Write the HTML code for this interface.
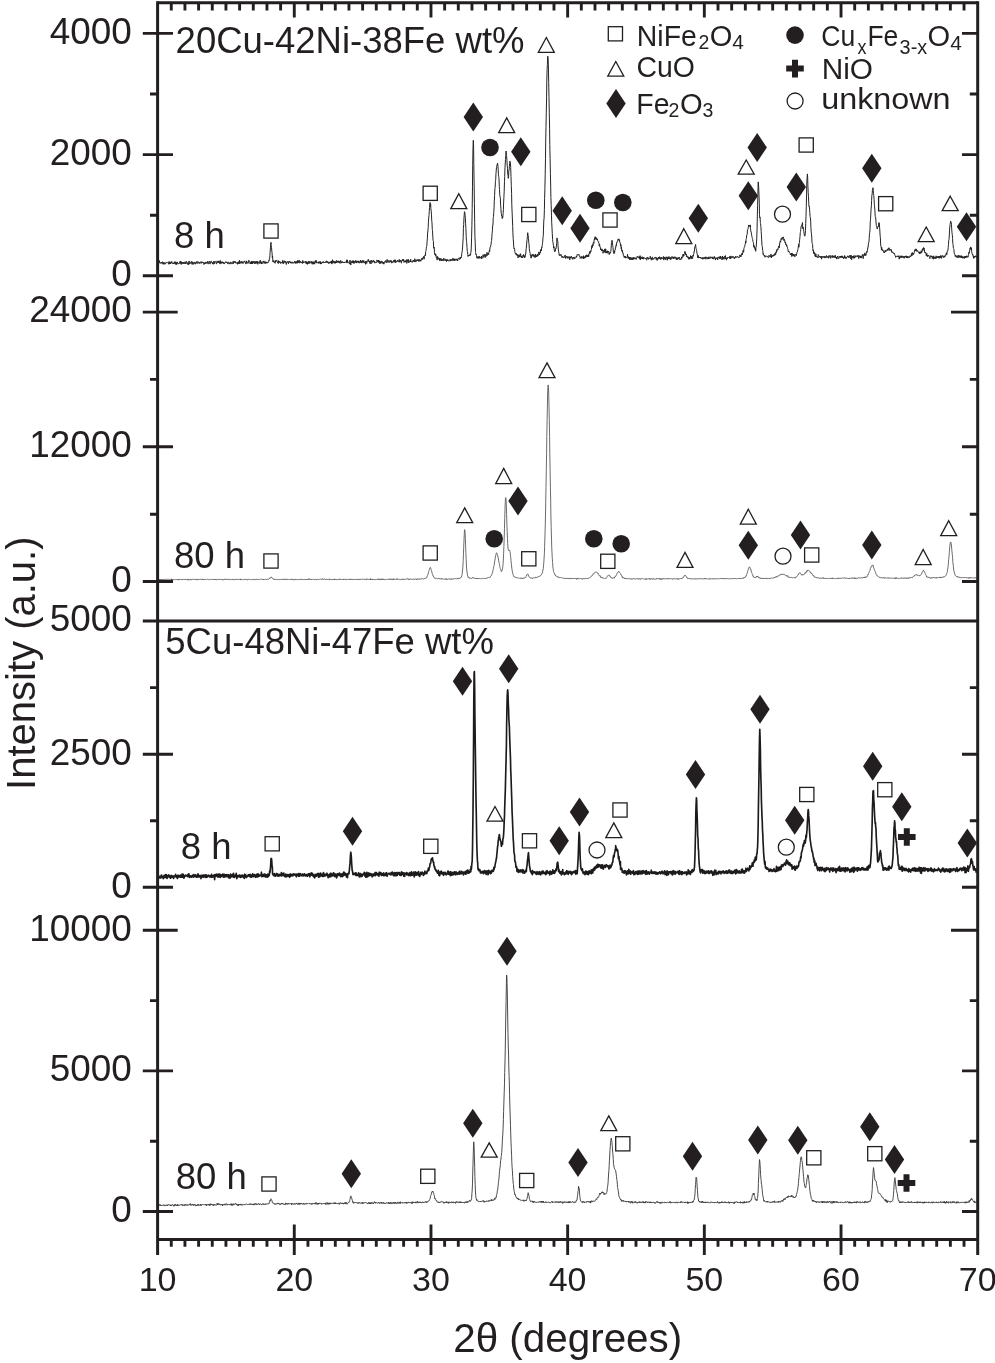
<!DOCTYPE html>
<html lang="en"><head><meta charset="utf-8"><title>XRD patterns</title>
<style>html,body{margin:0;padding:0;background:#fff}svg{display:block}</style>
</head><body>
<svg width="995" height="1363" viewBox="0 0 995 1363">
<rect width="995" height="1363" fill="#fff"/>
<path d="M158.6 264.6l.3-1.9 .2-.2 .3-1.9 .3 2.4 .3-.3 .2-.2 .3 .8 .3 0 .3-1.3 .2 .2 .3 .3 .3 1.1 .3-.1 .2-1.7 .3 .1 .3 1.7 .2 .8 .3-1.5 .3-.6 .3 1.6 .2-1.2 .3 .9 .3 .7 .3-.8 .2-.5 .3 .6 .3-1.2 .3 .4 .2-.4 .3 .4 .3-.3 .2 .3 .3-.2 .3 .4 .3 0 .2 .2 .3 1 .3-2.7 .3 2.6 .2-1.4 .3-.9 .3 1 .3 .2 .2 .9 .3-1.9 .3 1.1 .2-.1 .3-1.6 .3 .4 .3 1.7 .2 0 .3 .4 .3-.5 .3-.1 .2-.3 .3 1 .3-1.9 .3 .7 .2 .4 .3-1.7 .3 2.6 .3-1.9 .2 .6 .3 2 .3-2.7 .2 .3 .3 1.9 .3-2.4 .3 .6 .2 .8 .3 0 .3 .1 .3-.2 .2 .9 .3-.3 .3-.4 .3-1.1 .2-.1 .3-1.1 .3 2.4 .2-2.3 .3 2.5 .3 .8 .3-2.6 .2 .3 .3 .2 .3 1.2 .3-1.5 .2 .6 .3-.3 .3 .2 .3 1.4 .2-2 .3 .9 .3 .2 .2 .5 .3-1.9 .3 2.2 .3-.7 .2 .4 .3-.7 .3-1.5 .3 .8 .2 1.4 .3-.7 .3-.1 .3 1.7 .2 .3 .3-2 .3 1.8 .2-3.6 .3 0 .3 2.6 .3-1 .2 .7 .3 0 .3-.6 .3 .7 .2-.5 .3-1.5 .3 1.6 .3 0 .2 1.5 .3-2.7 .3 1 .2-.4 .3 .3 .3 1.6 .3-1.2 .2-.7 .3 .5 .3 .6 .3-1.6 .2 .7 .3 1.6 .3-.6 .3-.9 .2-.3 .3 .2 .3-1.2 .2 2.2 .3-.5 .3-.2 .3-1.3 .2 .5 .3 1.1 .3-.2 .3-.7 .2 .9 .3 .4 .3-1.4 .3 .1 .2-.3 .3-.3 .3 1.8 .3-.3 .2-.1 .3-1.4 .3 .1 .2 .9 .3-.3 .3 .5 .3-.8 .2 1.2 .3 1.1 .3-.3 .3 .1 .2-1.4 .3 .8 .3-1.2 .3 1.2 .2-1.2 .3-.1 .3-.1 .2 1.2 .3-.4 .3-.1 .3-1.2 .2 1.2 .3-1.5 .3 2.7 .3-1.5 .2 .3 .3-.3 .3-1.3 .3 .2 .2 1.2 .3 1.4 .3-2.4 .2 .4 .3 .6 .3-1.5 .3 0 .2 1.1 .3 .4 .3-.3 .3 1.7 .2-1.5 .3 .4 .3 1.1 .3 .1 .2-2.9 .3 1.1 .3 1.3 .2-2.3 .3 .5 .3-.4 .3 0 .2 .2 .3 1.1 .3 1 .3 .3 .2-1.4 .3-1.8 .3 1.7 .3-.2 .2 .6 .3-.4 .3-1.6 .2 2 .3-2.2 .3 1.2 .3 1 .2 0 .3 1.1 .3-3.6 .3 2.5 .2 .3 .3-.9 .3 .8 .3-1.5 .2 1.6 .3-.2 .3-1.3 .2 .2 .3 .5 .3-.4 .3 1.5 .2-.8 .3 1 .3-.1 .3-1 .2-.2 .3-.7 .3 .1 .3 0 .2 1 .3-1.1 .3 .9 .3 .1 .2-.6 .3 .3 .3 1.4 .2 .2 .3-2.2 .3 .5 .3-.1 .2 .1 .3 1.6 .3-.8 .3 .6 .2 .4 .3-2 .3 .2 .3 .2 .2 .9 .3-1 .3 .7 .2 .5 .3 0 .3-.7 .3-1.1 .2-.7 .3 2.4 .3-.6 .3-1.3 .2 .4 .3 .1 .3-1.1 .3 1.7 .2-.9 .3 .4 .3 1 .2-.8 .3 .6 .3-.1 .3-.4 .2 0 .3 1.7 .3-1.9 .3 1.6 .2-2.3 .3 1.5 .3-.5 .3-.8 .2-1.7 .3 3.8 .3-2.5 .2 .2 .3 1 .3-.1 .3 .2 .2-.5 .3-1.1 .3 2.1 .3-1.6 .2 1 .3 .4 .3 .5 .3-1.3 .2 0 .3 0 .3-1.4 .2 1 .3-.3 .3-.1 .3 1.2 .2-.5 .3 1.8 .3-.1 .3-3.1 .2 1.8 .3-1 .3 1.4 .3-.3 .2 .7 .3-.6 .3 .4 .2-1 .3-2 .3 1.2 .3 .3 .2 .4 .3-.5 .3 2.4 .3-1.7 .2 1.4 .3-1.5 .3 1.8 .3-2.6 .2 1.6 .3-1.7 .3 1.6 .2 1 .3-2.9 .3 .7 .3 1 .2-.4 .3-1.1 .3 2.3 .3-1 .2 1.1 .3-.8 .3-1.4 .3 .6 .2 1.7 .3-2.5 .3 .8 .3 1 .2 .4 .3-.2 .3-2.1 .2 3.2 .3-2 .3 .2 .3-.1 .2-.2 .3-.6 .3 .5 .3 1.5 .2-2.4 .3-1 .3 2.7 .3-.2 .2 .4 .3 .9 .3-2.3 .2 .9 .3 .2 .3 .7 .3-.2 .2-1.7 .3-.5 .3 1 .3-1.2 .2 2.4 .3-1.3 .3 0 .3-.5 .2 2.2 .3-1.2 .3-.6 .2 .9 .3-.7 .3 .6 .3 .7 .2-1.5 .3 .6 .3-.1 .3 .6 .2-.6 .3-.7 .3-1 .3 .4 .2-2.3 .3 0 .3-3.1 .2-2.9 .3-5 .3-3.7 .3-1.8 .2 3.2 .3 1.7 .3 3.9 .3 2 .2 4.5 .3-1.4 .3 5.7 .3-.9 .2 .6 .3-1.2 .3 .4 .2 1.7 .3-.7 .3 .6 .3 .9 .2-.6 .3-2.3 .3 .9 .3-.1 .2 .2 .3-1.1 .3 .1 .3 1.2 .2 .1 .3 1 .3-.7 .2 1.6 .3-3 .3 .4 .3 1.5 .2-.5 .3-.6 .3 1.6 .3 .3 .2 .2 .3-1.6 .3 .4 .3 .2 .2-.1 .3 .8 .3-1.3 .3 .7 .2-2.3 .3 2.7 .3 .8 .2-1.5 .3 .9 .3-2.4 .3 1.2 .2-1.1 .3 1.7 .3 .2 .3-1.7 .2 .4 .3 .3 .3 2.7 .3-2.3 .2 .2 .3 .2 .3 0 .2-.5 .3-1 .3 .6 .3 2.1 .2-1.3 .3-.5 .3-.9 .3 1.1 .2 .1 .3-.6 .3 1.4 .3-1.3 .2 .3 .3 1 .3-.6 .2 .8 .3-1.2 .3-.2 .3 .8 .2-.2 .3 .9 .3-.8 .3-.3 .2 .4 .3 .2 .3-1.6 .3 .8 .2-.1 .3 1.4 .3-1.6 .2 1.4 .3-2.1 .3 1.1 .3 1 .2-1.2 .3 1.3 .3-2.9 .3 1.9 .2 .1 .3-.3 .3-1.2 .3 2 .2-2.8 .3 3 .3-.6 .2 .6 .3-1.1 .3-.8 .3 .6 .2 0 .3 1 .3-.8 .3 .6 .2 .1 .3 .8 .3-3.1 .3 1.5 .2 1 .3 0 .3-1.2 .2 .3 .3 .1 .3 .3 .3-.7 .2-.1 .3-.4 .3 .7 .3 1.6 .2-2.1 .3 1.7 .3 .9 .3-1.6 .2 2 .3-2.3 .3 1.6 .2-1.5 .3-1.1 .3 1.4 .3 1.4 .2-2.2 .3 1 .3-1.4 .3 .1 .2 1.2 .3-.5 .3 .6 .3 .7 .2-2.2 .3 .4 .3 .7 .3 2 .2-2.4 .3-.1 .3 .8 .2 1.5 .3-2.4 .3 .3 .3 .3 .2 .6 .3 1.3 .3-3.1 .3-.4 .2 1.7 .3 .3 .3-2.5 .3 1.5 .2 1.4 .3-1.3 .3 .9 .2-.3 .3 .4 .3-.2 .3-.1 .2 .9 .3-1.7 .3 .6 .3 1 .2-1.6 .3 .2 .3-.4 .3-.1 .2 2.7 .3-1.4 .3 1.2 .2-1 .3-.6 .3-.3 .3 .5 .2-.3 .3 .9 .3-1.7 .3 1 .2 .2 .3-.6 .3 0 .3 .7 .2 0 .3-.6 .3 .1 .2-.5 .3 1 .3-.6 .3-1.3 .2 1.1 .3 .9 .3-.4 .3-1 .2 1.4 .3-.1 .3 0 .3 .9 .2-1.7 .3 .8 .3-.8 .2 1.2 .3 .1 .3-.6 .3 .2 .2-1.4 .3 1.3 .3-1.6 .3 3 .2-.9 .3-2.5 .3-1 .3 3.6 .2-2 .3 1.3 .3-1.7 .2 1.3 .3-.7 .3 1.1 .3-.8 .2 1.6 .3-2 .3 1.8 .3-1.1 .2 .4 .3-1.9 .3-.1 .3 2.5 .2-2.1 .3 .8 .3 .1 .3-.6 .2 1 .3-1.4 .3 .2 .2 1.9 .3-1.6 .3 1.4 .3-.1 .2 .8 .3-1 .3-2 .3 1 .2 .3 .3 1.4 .3-.8 .3-.7 .2 .8 .3-.7 .3 .8 .2-.3 .3 .8 .3-.7 .3 .6 .2-.9 .3 .7 .3-.8 .3 .7 .2-.4 .3-.3 .3-.3 .3 .1 .2 .7 .3-2.5 .3 3.2 .2-3.3 .3 2 .3-.1 .3 1 .2-.5 .3-.3 .3 .2 .3 .7 .2 1.3 .3-1.8 .3-2.2 .3 1.5 .2 .7 .3 2.7 .3-3.7 .2 .3 .3 .9 .3-.2 .3-1.5 .2 2 .3-2 .3 .9 .3 1.5 .2-2.5 .3 .9 .3 1.9 .3-1.8 .2-.7 .3 .4 .3 1.3 .2-2.2 .3 .9 .3-.8 .3 .3 .2 2.2 .3-1.2 .3-.4 .3 .8 .2-1 .3-.5 .3 2.2 .3-.3 .2-1.6 .3 1.5 .3 .6 .2-.8 .3 0 .3-1.6 .3 1 .2-1.6 .3 2.7 .3-1.2 .3 1.4 .2-1.9 .3 1.5 .3-2.3 .3 1.1 .2 .9 .3-.2 .3-.4 .3-1.4 .2 2.7 .3-.6 .3 .4 .2 0 .3-1.4 .3 .7 .3 2.1 .2-3.2 .3 1.1 .3-.9 .3 2.2 .2-1.5 .3-1.1 .3 .4 .3-.7 .2-.8 .3-.5 .3 1.9 .2-.4 .3 1.2 .3-.9 .3 .9 .2 1.5 .3-2.8 .3 0 .3 2 .2 1.3 .3-3 .3-.7 .3 1.3 .2-.2 .3 1.1 .3-1.7 .2 .8 .3-.1 .3-1.2 .3 .1 .2 1.8 .3 .1 .3-1.2 .3 2.1 .2-.5 .3-.5 .3 .2 .3-.3 .2 .4 .3 .1 .3-.8 .2-1.9 .3 1.7 .3-.6 .3-.3 .2 1.6 .3-2.2 .3 2.4 .3-1.3 .2-.6 .3 .3 .3 3 .3-.8 .2-1.6 .3 1.2 .3 .7 .2-2.5 .3 .6 .3 1.1 .3-.5 .2-.7 .3 1.8 .3-1 .3 .3 .2 1.5 .3-1.8 .3 2 .3-2.2 .2-.4 .3 .2 .3 .7 .2-.2 .3-.2 .3-1.8 .3 .4 .2 .7 .3 1 .3 .6 .3-3.6 .2 2.1 .3-.3 .3 .4 .3 .3 .2-1 .3-.5 .3 2.2 .2-.2 .3-1.1 .3 .2 .3-.5 .2-.7 .3 1.9 .3-1.2 .3-.4 .2 .5 .3 2.1 .3-1.2 .3-.2 .2-.1 .3 .7 .3-.1 .3-1.9 .2 1 .3-.4 .3 .8 .2-.3 .3-1.8 .3 3 .3-.9 .2-1.9 .3 2.7 .3-.9 .3 .3 .2-.4 .3 .1 .3-.6 .3-1.1 .2 .9 .3 .8 .3-.2 .2 .6 .3-.7 .3-2 .3 2.8 .2-1.5 .3-.5 .3 1 .3-1 .2 1.6 .3-1.2 .3 2.6 .3-2 .2-.3 .3-.1 .3-1.5 .2 1.2 .3 .1 .3 .4 .3-1.8 .2 2.2 .3 1.1 .3-1.6 .3 .3 .2 .5 .3-1.2 .3 .4 .3 1.3 .2-.8 .3-1.3 .3-.5 .2 3.8 .3-1.8 .3-1.9 .3 1.6 .2 .5 .3-.5 .3-1.9 .3 3.5 .2-1.2 .3-.8 .3 .9 .3-.9 .2-.1 .3 1.1 .3-2.7 .2 2.8 .3-.6 .3 .3 .3 .2 .2 .5 .3-.1 .3-.5 .3-1.2 .2 1 .3-1.2 .3-.4 .3 1.3 .2-.1 .3 .7 .3-3.2 .2 2.6 .3 0 .3-.5 .3 1.3 .2-2.3 .3 1.1 .3-.7 .3 .3 .2-1 .3 .8 .3 .7 .3-.6 .2 .2 .3-1.1 .3 2.2 .3-2.3 .2 .7 .3 .4 .3-.8 .2 .9 .3-.7 .3 1.4 .3-1.2 .2-.3 .3-1.3 .3 1.1 .3 .4 .2-.7 .3-1.5 .3 .2 .3 .1 .2-.1 .3-1.7 .3 2.9 .2-2.4 .3-.4 .3-1.2 .3-.4 .2 .9 .3-4.1 .3-1.1 .3-2.3 .2-1.6 .3-.3 .3-5.1 .3-3 .2-5.1 .3-2.2 .3-3.5 .2-5.1 .3-4.2 .3-2.7 .3-4 .2-3.9 .3-3 .3-2 .3 3.9 .2-2.5 .3 5 .3 2.2 .3 3.1 .2 6.1 .3 2.4 .3 6.5 .2 1.5 .3 5.4 .3 4.4 .3 .7 .2 6 .3 1.1 .3-1.2 .3 5.4 .2 2 .3-1 .3 1 .3 1.4 .2-1.7 .3 2.6 .3 1.2 .2-1.1 .3 1.9 .3 1.3 .3-3.8 .2 .3 .3 1.2 .3 1.5 .3-.2 .2-1.1 .3-.1 .3 .5 .3 2.4 .2-2.5 .3 .4 .3 1.6 .2-1.1 .3-.7 .3 2.4 .3-1 .2-.9 .3 .3 .3 1.3 .3-1.2 .2 .6 .3 .6 .3 .1 .3-2.6 .2 1.3 .3 .1 .3 .5 .2 .6 .3 .4 .3-1.5 .3-.6 .2 1.2 .3-.7 .3 2.2 .3-1.3 .2-.3 .3 .9 .3-1.5 .3 .3 .2 .1 .3 .8 .3 .6 .3-.5 .2 0 .3-.9 .3 .5 .2-.5 .3 1.3 .3-1.7 .3 .5 .2 .3 .3 .5 .3-1.4 .3 .4 .2-.6 .3-.5 .3 2.3 .3-.6 .2-1.9 .3 .5 .3 1.4 .2-1.1 .3-.4 .3 2.1 .3-1.6 .2 0 .3 .9 .3-1.3 .3 .7 .2 .1 .3 .5 .3-1.4 .3 1.6 .2-.7 .3 1.3 .3-1.6 .2-.8 .3 0 .3-.7 .3 1 .2-.2 .3 .8 .3-1 .3-1.1 .2 1.6 .3-1.8 .3 .2 .3 .5 .2-1.2 .3-3.4 .3-1.4 .2-1.2 .3-3.8 .3-4.8 .3-4.7 .2-9.1 .3-3.8 .3-6.8 .3-3.6 .2-2.4 .3 .7 .3 3 .3 3.6 .2 4.7 .3 5 .3 7.5 .2 4 .3 2.3 .3 5.3 .3 3.3 .2 .6 .3 2.6 .3 2.2 .3-1.2 .2 .5 .3 .2 .3-.9 .3 .5 .2-.8 .3 .5 .3-1 .2 .9 .3-2.5 .3-1.7 .3-7 .2-6.8 .3-11.7 .3-16.9 .3-22.4 .2-20.9 .3-17.1 .3-7.9 .3 5.7 .2 17.6 .3 19.3 .3 20.4 .3 19.2 .2 13.9 .3 5.8 .3 9 .2 1.6 .3 2.1 .3-.5 .3 1.4 .2 2.2 .3 .3 .3-1 .3-.7 .2 .3 .3 1.6 .3-1.9 .3-.2 .2 .9 .3 1 .3-1.9 .2 1.4 .3 0 .3-.2 .3-.3 .2 1 .3-.3 .3-2 .3 2.9 .2-1.2 .3-.1 .3-.8 .3 0 .2-2.2 .3 2.2 .3 .7 .2-.1 .3-1.3 .3-1.8 .3 1.1 .2 .7 .3 1.4 .3-3 .3 1.5 .2 .4 .3-.2 .3-.9 .3-2.9 .2 3.1 .3-.7 .3 .1 .2-1.9 .3 .1 .3 1.5 .3-2.2 .2-.6 .3-1.4 .3 1.1 .3-4 .2 0 .3-.4 .3-2 .3-.8 .2-2.5 .3-1.2 .3-4.4 .2-2.7 .3-2.7 .3-5.7 .3-.1 .2-6.7 .3-1.9 .3-4.1 .3-5.2 .2-5.8 .3-5.9 .3-6.7 .3-1.5 .2-5.6 .3-1.9 .3-6.4 .2-2.2 .3-3.9 .3-.8 .3-2 .2 .1 .3-1.4 .3 3.1 .3 3.2 .2 4.9 .3 2.3 .3 2.1 .3 7.8 .2 2.9 .3 5.5 .3 1.9 .3 1.4 .2 7 .3 3.3 .3 4.6 .2 .5 .3 2.6 .3 .5 .3 1.9 .2-2 .3 .8 .3-3.7 .3-4.1 .2-6.5 .3-5.7 .3-6.2 .3-9.6 .2-5 .3-8.9 .3-4.7 .2-3.6 .3-4 .3-4.4 .3 4.2 .2 1 .3 4.1 .3 4.9 .3 3.2 .2 5.5 .3 1.2 .3 3.3 .3-1.7 .2-5.7 .3-1.1 .3-3.6 .2-2.9 .3-2.2 .3 1 .3 1.8 .2 3.6 .3 8.9 .3 9 .3 8 .2 10.7 .3 7.9 .3 6.9 .3 7.4 .2 6.5 .3 5.5 .3 3.6 .2 4 .3 2.6 .3-.5 .3 1.2 .2 2.1 .3 1.4 .3 1.1 .3 .2 .2 .3 .3-1.2 .3 1.6 .3-.8 .2 1.3 .3 .7 .3-1.4 .2 .6 .3 2.8 .3-3 .3 .3 .2-.4 .3-.3 .3 2.5 .3-1.6 .2 .2 .3-.1 .3-1.9 .3 3.5 .2-1.3 .3 .6 .3 1.4 .2-1.5 .3 .3 .3 0 .3 1.1 .2-2.6 .3 .8 .3-1.6 .3 2 .2 .5 .3-1.2 .3 2.2 .3-1.4 .2 .3 .3-2.7 .3 .2 .2-4.3 .3-1.7 .3-3.4 .3-4.1 .2-1.1 .3-3.2 .3-3.8 .3 1.7 .2 1.2 .3 3 .3 4 .3 2.2 .2 3.8 .3 2.6 .3 .9 .3 1.4 .2 2.3 .3-.3 .3 2.7 .2-.1 .3-2.6 .3 1 .3-2.2 .2 1.3 .3-.2 .3 .1 .3-1.3 .2 2.3 .3-.2 .3-1 .3 .7 .2 .9 .3 .6 .3-2.9 .2 2.7 .3-3.3 .3 .8 .3 .3 .2 1.8 .3-1.1 .3-.1 .3 .8 .2-1.5 .3-.9 .3 1.7 .3-1.9 .2-1.3 .3-.7 .3 1.6 .2 1.4 .3-1.5 .3-1.1 .3 .8 .2-3.3 .3 1.4 .3-1.7 .3 1.1 .2-3.3 .3 .5 .3-2.2 .3-2.1 .2-1.7 .3-4 .3-2.1 .2-6.6 .3-8.1 .3-2.9 .3-8.6 .2-10.8 .3-10.3 .3-13.7 .3-16 .2-16.8 .3-14.6 .3-15 .3-14.4 .2-17 .3-11.2 .3-5.3 .2-8 .3-.3 .3 4 .3 12 .2 10.5 .3 14.1 .3 16.5 .3 15 .2 16.3 .3 14 .3 14.9 .3 12.6 .2 11.6 .3 7.9 .3 9.7 .2 7.1 .3 5.6 .3 5.6 .3 5.9 .2 2.2 .3 1.5 .3 2.2 .3 2.7 .2-1.5 .3 2.6 .3 2.1 .3 .7 .2-.5 .3-.2 .3-2.6 .3 .3 .2-.9 .3-1.9 .3-2.7 .2-5.5 .3 .5 .3 1.5 .3 1.4 .2 3.8 .3 3.9 .3 2.3 .3 1.7 .2 1.6 .3 1.1 .3-1 .3-.5 .2 .6 .3 .4 .3 .5 .2-1.3 .3 .9 .3 .6 .3 1.6 .2-.7 .3-.5 .3 1 .3-.6 .2 .1 .3 .9 .3-.6 .3-.2 .2 .6 .3-1.1 .3 .6 .2-2 .3 1.6 .3 1.9 .3-1.7 .2 .4 .3-.4 .3-.6 .3 1.5 .2-.4 .3 1 .3-1.8 .3 .9 .2-.3 .3-.3 .3 1.6 .2-1.6 .3 0 .3 3.1 .3-2.5 .2-.1 .3 .7 .3-1.4 .3 1.3 .2-1.5 .3 .7 .3-.1 .3 1.9 .2-.7 .3 1.1 .3-.1 .2-2.2 .3 1.1 .3-.9 .3-.2 .2 1.7 .3 .2 .3-1.2 .3 .1 .2-.1 .3 0 .3-.2 .3-1.5 .2 1.2 .3-1.6 .3-1 .2 .5 .3-.1 .3 .2 .3-.6 .2 0 .3-.6 .3 1.5 .3 .3 .2 .5 .3-.5 .3 2.6 .3-.6 .2 .1 .3-.5 .3-.3 .2 1.2 .3-2.1 .3 .8 .3 .1 .2 .8 .3-.8 .3 1.6 .3-3 .2 3.1 .3-1.2 .3 .5 .3-1.4 .2 1.4 .3-1.3 .3 .5 .3-1.8 .2 1.9 .3-.5 .3-2.1 .2 1.6 .3-.3 .3 .9 .3-1.7 .2 .7 .3 .8 .3-2.4 .3 2.3 .2-1.9 .3-.9 .3-1.6 .3-.9 .2 2.2 .3-2 .3-.8 .2 1 .3-1.1 .3-1.4 .3-2.5 .2-1.3 .3 2.1 .3-2 .3-1.2 .2 1.4 .3-3.4 .3-.1 .3 1 .2-2.4 .3-2 .3-1 .2 1.7 .3-3 .3 1.9 .3 .7 .2-1.8 .3 1.2 .3-.5 .3 1.9 .2-.7 .3-.4 .3 1.9 .3 .5 .2 0 .3 1.2 .3-.2 .2 1.2 .3 2.4 .3-1.9 .3 3 .2 .3 .3 0 .3 2.7 .3-.3 .2-.8 .3 1.2 .3 1 .3-2.2 .2 2 .3-.3 .3 .8 .2 1.9 .3-2.7 .3 .3 .3-.8 .2 1.5 .3 .4 .3-3.1 .3 4 .2 .1 .3-4.2 .3 1.2 .3 2 .2-.3 .3 1.2 .3-1.3 .2 1.7 .3-2.5 .3 1.9 .3-.7 .2 .2 .3-1.1 .3 1.5 .3 2 .2-1.9 .3 .6 .3 .3 .3-1.3 .2 .5 .3-1.1 .3-3.3 .3-4.9 .2 .3 .3-3.5 .3 .2 .2 2.1 .3 2.9 .3 1.8 .3 3.7 .2 1.2 .3 1.1 .3 .5 .3-2.9 .2 1.7 .3-2.3 .3-.3 .3-2.6 .2 .4 .3-2.4 .3 .6 .2-3.1 .3 .2 .3-1.5 .3-.1 .2-.8 .3-.7 .3-1.1 .3 1.3 .2-.2 .3-1.1 .3 2.2 .3-.7 .2 1.7 .3 .8 .3 1.1 .2 2.1 .3-1.5 .3 4.3 .3-2 .2 4.1 .3 .3 .3-1.2 .3 2.7 .2 .1 .3-.2 .3 2.9 .3 .5 .2-.3 .3 1.6 .3-1.1 .2-.2 .3 1.8 .3-1.8 .3 1.6 .2 .5 .3-.8 .3 0 .3 .5 .2-.2 .3-.8 .3-2.7 .3 3 .2-.9 .3 2.4 .3-1.4 .2 .7 .3 .6 .3 .2 .3-1.8 .2 3 .3-1.2 .3-.2 .3-1.5 .2 2.8 .3-1.3 .3 .5 .3-1.3 .2 2.1 .3-.4 .3-1.5 .2 2 .3-2.9 .3 1.8 .3-.2 .2 .1 .3-1.3 .3 .3 .3 1.3 .2 .1 .3-1.1 .3-.2 .3-.2 .2 1.7 .3-1.4 .3-.3 .3-1.3 .2 .1 .3 .6 .3-.8 .2 1.5 .3 .1 .3-.7 .3 .6 .2 .3 .3-1.6 .3 2.3 .3-3.2 .2 4.4 .3-3.2 .3 1.4 .3-.4 .2 .7 .3-1 .3 1.2 .2-2 .3 2.2 .3-1 .3 .6 .2 .7 .3-2.1 .3 .6 .3-.2 .2 .6 .3 .3 .3 .5 .3-.5 .2-.3 .3 .6 .3 .5 .2-.1 .3 1.1 .3-2.6 .3 .8 .2-1.4 .3 .6 .3 1.2 .3 .6 .2-1.6 .3 .9 .3-.4 .3 .4 .2-.3 .3-.6 .3-1.6 .2 .7 .3 1.7 .3-.4 .3 2 .2-1.9 .3 .8 .3-1.9 .3-.2 .2 1.4 .3 1.4 .3-1.2 .3-.6 .2 .6 .3 .2 .3-.1 .2-.4 .3-1 .3-.1 .3 .6 .2 .3 .3-1.1 .3 2.7 .3-.9 .2-1 .3 1.2 .3 1.5 .3-2 .2 0 .3 .7 .3-2.2 .2 .7 .3-.2 .3 1.5 .3-2.3 .2 1.9 .3-.8 .3 .2 .3-.3 .2 1.9 .3-2.1 .3-.3 .3 1.3 .2-.8 .3 1 .3-.5 .2 .1 .3 0 .3-1.6 .3-.3 .2 3.7 .3-2.9 .3 1.5 .3-1.5 .2 1 .3-.2 .3 1.6 .3-1.6 .2-1.2 .3 .1 .3 1.6 .3 .5 .2 1.1 .3 .1 .3-3.3 .2 1.2 .3-1 .3 1.4 .3 .5 .2-2.5 .3 2.5 .3-.1 .3-.9 .2-.3 .3 2 .3-1.6 .3-.9 .2 1.1 .3 .9 .3-.4 .2-2.4 .3 .6 .3 .8 .3 .5 .2 0 .3-1.3 .3 2 .3-.4 .2-1.9 .3 .6 .3 .8 .3-1.3 .2 1.4 .3 .1 .3-.5 .2 .9 .3 1.1 .3-2.2 .3 1 .2-.9 .3 1.9 .3-.3 .3-1.2 .2-.5 .3 1.3 .3-.8 .3-1.1 .2 .2 .3 .7 .3 2.2 .2-1 .3 .2 .3-.4 .3 .4 .2 0 .3-2.5 .3 1.5 .3-.1 .2-.4 .3-.3 .3-3.2 .3 2.1 .2-2 .3 1.6 .3-2 .2-.3 .3-.2 .3-2.2 .3 1.9 .2-.8 .3 2.6 .3-.9 .3 0 .2 2.9 .3-1 .3-.2 .3 1.2 .2 .2 .3 .6 .3-1.1 .2 2.1 .3-.7 .3 1.3 .3-1 .2-1.4 .3 1.9 .3-1.3 .3 .4 .2-2.4 .3 1.1 .3 2.4 .3-.3 .2-2.7 .3 1.9 .3-.1 .3 .6 .2-2.5 .3-1 .3 1.2 .2-1.9 .3-1.3 .3-1.9 .3 .2 .2-4 .3 .1 .3-1.5 .3-1.5 .2 2.3 .3 1.7 .3 .9 .3 1.4 .2 2.7 .3 .1 .3 2.4 .2 1.8 .3-2.1 .3-.1 .3 2.6 .2-1.3 .3 .5 .3 .6 .3-.7 .2 .8 .3-1 .3 .4 .3 .4 .2 .7 .3-.9 .3 .7 .2 .2 .3-.1 .3-.5 .3 1.3 .2-1.9 .3 1.7 .3-.1 .3-.1 .2-1.2 .3 1.3 .3-.4 .3-1.5 .2 .7 .3-.9 .3 1.6 .2 .9 .3-.4 .3-1.8 .3 0 .2 .8 .3 0 .3 .8 .3-1 .2 1.4 .3-1.5 .3 1.4 .3-2.3 .2 .8 .3 .6 .3 .7 .2-.3 .3-1.3 .3-.4 .3 1.2 .2-.1 .3-.2 .3 .3 .3-1.2 .2 1.7 .3 .4 .3-1.7 .3 0 .2 1.9 .3-.1 .3-1.7 .2 .1 .3-1 .3 2 .3-.2 .2-.2 .3 2.1 .3-2.3 .3 .1 .2 .3 .3-.4 .3 1.2 .3-1.2 .2 .3 .3 1.9 .3-2.6 .2-.5 .3 1.2 .3-.7 .3 0 .2 .7 .3 .6 .3-2.2 .3 1.2 .2-1.7 .3 2.8 .3-1.9 .3 1.6 .2 1 .3-.4 .3-.8 .3-2.3 .2 3.6 .3-2.1 .3 1.1 .2-1.2 .3 .2 .3 1.7 .3-3 .2 .4 .3 .8 .3 1.3 .3-3.3 .2 3.4 .3-1.5 .3 1 .3 1.8 .2-2 .3 .5 .3 .3 .2-1.6 .3 .4 .3-.3 .3 .4 .2-.5 .3-.2 .3-.1 .3 1.2 .2-1.9 .3 1.3 .3 1.2 .3-2.6 .2-.4 .3 2.3 .3-1.4 .2 0 .3 1.3 .3-.3 .3-1 .2 .3 .3-1.1 .3 .8 .3 .5 .2 .6 .3 0 .3 1 .3-1.7 .2 1 .3-.7 .3-1.2 .2 1.1 .3 0 .3 .3 .3-.2 .2-.4 .3-1 .3 .5 .3 .5 .2 .3 .3 .1 .3-.5 .3 .2 .2 .7 .3-1.3 .3-.8 .2-.9 .3 1.2 .3 .4 .3-1.1 .2 1.6 .3-2.5 .3 .2 .3 0 .2-1.6 .3 1.8 .3-2.2 .3-1 .2-1.3 .3 2 .3-.4 .2-3.3 .3-1.4 .3-.1 .3-.8 .2-1.8 .3-.4 .3-3.1 .3 1.7 .2-3.4 .3-1 .3-3.2 .3-.2 .2-.9 .3-4.2 .3-.5 .3-.3 .2-1.7 .3-2.2 .3-.2 .2 1 .3-.3 .3-.7 .3 1.8 .2-1.9 .3 3.7 .3 2.3 .3 1.5 .2 0 .3 2.4 .3 1.6 .3 1.3 .2 .8 .3 .9 .3 2.3 .2 .7 .3 .3 .3 4.5 .3-1.7 .2 1.6 .3 .8 .3-.6 .3 2.6 .2-1.9 .3 3.3 .3-4 .3-1.3 .2-3 .3-5.9 .3-8.7 .2-10.3 .3-12.8 .3-11 .3-12.4 .2 1.2 .3 4.7 .3 7.5 .3 7.8 .2 11.6 .3 3.2 .3-.7 .3 5.5 .2 1 .3 3 .3 4.8 .2 3.2 .3 5.2 .3 5.4 .3 1.2 .2 2.5 .3 1.6 .3 3.8 .3-1 .2 1.3 .3 .2 .3 1.3 .3-.1 .2-1 .3 2.2 .3-.8 .2 0 .3-.7 .3 .1 .3 .2 .2 .3 .3 .4 .3 0 .3-.6 .2 .1 .3 .8 .3 .5 .3 0 .2-1.2 .3-1.2 .3 1.4 .2 0 .3-.1 .3 .4 .3-1 .2 .5 .3-2.4 .3 3.9 .3-1.7 .2-.4 .3 .7 .3-.8 .3-.6 .2 1.4 .3-.9 .3-.9 .3 1.2 .2-.4 .3-.3 .3-.9 .2 1 .3-2.2 .3 1.4 .3 .3 .2-2.8 .3 .7 .3-2.5 .3 1.3 .2-2.3 .3-.2 .3 .9 .3 .2 .2-1.2 .3-1.5 .3-1.3 .2 0 .3 1.8 .3-1.8 .3-3.7 .2-.1 .3-1.5 .3 1.4 .3-1.6 .2-2 .3 .9 .3-.8 .3-1 .2 .5 .3 1.1 .3-2 .2 .6 .3-1 .3 1.4 .3 2.3 .2-.5 .3-.8 .3 .7 .3 2.7 .2-.8 .3 .3 .3 2.5 .3-.8 .2 .4 .3 1.9 .3-1 .2 1.7 .3 .3 .3 1.6 .3 .4 .2 2.6 .3-.6 .3-.1 .3 1 .2-.3 .3 .9 .3 .7 .3 .3 .2 1.2 .3-.6 .3-.9 .2 1.1 .3-1.1 .3 3.2 .3-3.7 .2 1.8 .3 .8 .3-1.4 .3 .6 .2 1.4 .3-2.1 .3 2 .3-1.1 .2-.2 .3 2.2 .3-1.2 .2-.5 .3-.8 .3 .2 .3-.6 .2 1.6 .3-2 .3-1.5 .3-.4 .2 .1 .3-2.4 .3-.8 .3-2.2 .2-2.3 .3 3.1 .3-4.5 .2 0 .3-3.5 .3-2.6 .3-3.9 .2-1.2 .3-2 .3-3.2 .3 .2 .2-.6 .3-1.5 .3-.3 .3-1.6 .2 6.1 .3-.8 .3-.5 .3 2 .2 2.4 .3 1.4 .3 2.5 .2-.2 .3 .8 .3-2.2 .3-3.4 .2-6.9 .3-6.9 .3-10.2 .3-12.5 .2-11.2 .3-4.8 .3-4.2 .3 4.1 .2 7.2 .3 7.5 .3 4.1 .2 5.3 .3 4.4 .3-.3 .3 2.9 .2 3.3 .3 4.2 .3 .6 .3 3.9 .2 6.5 .3 4.3 .3 1.9 .3 4.3 .2 4.2 .3 1.5 .3 .6 .2 4.2 .3 2.3 .3-1 .3 3.6 .2-.8 .3-.8 .3 2.4 .3-1.3 .2 3.1 .3-.6 .3 1.5 .3-3.2 .2 1.9 .3 1.4 .3-.1 .2-.5 .3-.1 .3 .3 .3 .4 .2 .9 .3-3.4 .3 .8 .3 .5 .2 .8 .3 .2 .3-.7 .3 .3 .2 .9 .3 .4 .3-1.8 .2 .5 .3 .3 .3 2.4 .3-3 .2 1 .3-.3 .3-.4 .3 1.3 .2-.9 .3-.4 .3 .5 .3 .2 .2-.8 .3-.1 .3 1.8 .2-1.6 .3 1.4 .3-1 .3-.6 .2-.3 .3-.5 .3 2.2 .3 0 .2-1 .3-.6 .3 .5 .3 .6 .2 1.1 .3-1.8 .3-1 .3 1.8 .2-.5 .3-.5 .3-.9 .2 2.2 .3 .8 .3-2.2 .3-.5 .2 .9 .3 .2 .3 .8 .3-.4 .2-1.7 .3 1.9 .3 0 .3-.8 .2 .8 .3-1.6 .3 1 .2-1 .3 1.3 .3 .7 .3-2.5 .2 1.8 .3 .7 .3-.5 .3 1.3 .2-1.5 .3 2 .3-1.9 .3-1.2 .2 1 .3-.5 .3 1.8 .2 .4 .3 0 .3-.8 .3-.9 .2-.4 .3-.5 .3 1.7 .3-1.8 .2 .9 .3 .5 .3 .2 .3-1.7 .2 .1 .3 0 .3 1.9 .2-1.8 .3 .2 .3 1.4 .3 .3 .2 .9 .3-1.8 .3 .9 .3-2.5 .2 2.2 .3 .3 .3 .1 .3-1.4 .2 1.8 .3 .2 .3-1.5 .2 0 .3-.4 .3 .1 .3 .2 .2-1.2 .3-.1 .3 1 .3-.2 .2 1.4 .3-1.1 .3-.7 .3-.8 .2 1.3 .3-.7 .3-.7 .2 3.5 .3-3.6 .3 3.4 .3 1.3 .2-2.8 .3-.5 .3 1 .3-1.5 .2 1 .3 .6 .3-2 .3 2.7 .2-1.4 .3 .2 .3 .9 .2-2.6 .3 .1 .3 1.5 .3 .1 .2-.7 .3 .1 .3-.1 .3-.7 .2-.4 .3 .5 .3 .8 .3 .3 .2-1.7 .3 2.9 .3 .5 .3-2.1 .2-1 .3 .6 .3 .9 .2-.9 .3 1.8 .3-2.1 .3 1.1 .2-.5 .3 1.6 .3-1.8 .3 0 .2-1.4 .3 .5 .3-1.1 .3 4.3 .2-3.2 .3-.3 .3 .1 .2 .2 .3 0 .3-2.5 .3 2.8 .2-1.4 .3-.4 .3 1.5 .3-1.8 .2-1.5 .3-.6 .3 1 .3-1.6 .2-.8 .3-2.7 .3 .1 .2-2.6 .3-2.2 .3-.1 .3-3.9 .2-3.8 .3-2.2 .3-2.9 .3-8.2 .2-1.8 .3-5.6 .3-5.3 .3-3 .2-5.2 .3-5.6 .3-1.1 .2-4 .3-.8 .3-1.5 .3 3 .2 2.9 .3 1.9 .3 3.9 .3 5.3 .2 2.1 .3 3.3 .3 6.3 .3 .5 .2 1.1 .3 3.9 .3 3.5 .2 .7 .3 1.3 .3 1.3 .3 .3 .2-1 .3-1.3 .3-.7 .3 .5 .2-3.6 .3-.4 .3 .4 .3 4.2 .2 2.8 .3 5.2 .3 2.5 .2 5.4 .3 3.4 .3 .6 .3 3.1 .2-2.9 .3 2.9 .3-.4 .3 .8 .2-.8 .3 1.4 .3 .2 .3-.4 .2 1.9 .3-.3 .3 .4 .3-1.8 .2-.2 .3-.7 .3 1.8 .2 0 .3-1.3 .3-.9 .3 .5 .2 .2 .3-.2 .3-1 .3 1.2 .2 0 .3-2.3 .3 1.2 .3-.3 .2-1.4 .3 .9 .3 .9 .2 1.2 .3-1.7 .3 .6 .3 .4 .2 .1 .3-.6 .3 2.6 .3-.7 .2 1 .3 .6 .3-.7 .3-.2 .2 .6 .3 .5 .3 0 .2 .8 .3-.8 .3 1.2 .3 .1 .2 1.1 .3 .4 .3 1.4 .3-.4 .2-.3 .3-.6 .3 .2 .3 .4 .2-.5 .3 .4 .3-.8 .2 1.2 .3-1.2 .3 .5 .3 0 .2 2.9 .3-2.2 .3 .8 .3-2.1 .2 1.8 .3-.8 .3 1.1 .3-1.2 .2-.7 .3 1.8 .3-.7 .2-1.2 .3 1.1 .3-.8 .3 1.6 .2-.6 .3 .3 .3-1.2 .3 2.1 .2-1.8 .3 .8 .3-.5 .3 .3 .2-1.2 .3 1.2 .3 .3 .2-1.6 .3 2.2 .3-1.9 .3 .4 .2-.1 .3 1.7 .3-1.6 .3 0 .2 .7 .3-.2 .3 .9 .3-1.5 .2-.3 .3-.3 .3-.1 .3 1.3 .2-.3 .3-1 .3-.1 .2-2.2 .3 2.6 .3-.6 .3-2.9 .2 1.2 .3 0 .3 1.1 .3-1.6 .2 .6 .3-.1 .3-1.3 .3-2.1 .2-.7 .3 .7 .3 .8 .2-.5 .3-1.8 .3 2 .3-1.5 .2 .6 .3 1.7 .3-.6 .3-.4 .2 .1 .3 1.2 .3 .5 .3-.1 .2-.4 .3 1.4 .3 .5 .2-1.9 .3 1.7 .3-1.4 .3 .2 .2 .9 .3-2.5 .3 .7 .3 1.3 .2-.7 .3-2.4 .3-1 .3 2.1 .2-1.3 .3-.1 .3-1.9 .2 1.9 .3-1.4 .3 1.7 .3 2.6 .2-.1 .3 .9 .3-.9 .3 .9 .2-.2 .3 2.9 .3-1.9 .3-.4 .2 1.3 .3 1.8 .3-1.2 .2 .9 .3-1.3 .3 .9 .3-.5 .2 .3 .3 .9 .3 .8 .3 1.3 .2-1.2 .3-1.5 .3 0 .3-.4 .2 1.3 .3-.8 .3 .8 .2-.9 .3 2.5 .3-1.7 .3 1 .2-1 .3 2.4 .3-3.4 .3 1.8 .2 .9 .3-1.4 .3 1 .3-.9 .2 1.1 .3-1.1 .3 1.7 .2-3.1 .3 2.1 .3-1.1 .3 0 .2 1 .3-1.2 .3 0 .3 1.1 .2-1.6 .3 .8 .3 1.2 .3-1.7 .2 1.9 .3-2.2 .3 1.2 .3-.2 .2-1.4 .3 2 .3-2.1 .2 2.7 .3 .1 .3-2.1 .3 .6 .2-.3 .3-1.2 .3 .5 .3 .7 .2 0 .3 1.1 .3-1.7 .3-.2 .2 1.1 .3 0 .3-1.1 .2 .3 .3-1 .3 .1 .3-2.3 .2-.1 .3 1.9 .3-2.3 .3-1.6 .2 .2 .3-.2 .3-3.2 .3-3.2 .2-3.5 .3-1.3 .3-3.6 .2-5.1 .3-4 .3-2.4 .3-1.5 .2-1.7 .3 0 .3 1.4 .3 1.6 .2 4.5 .3 4.1 .3 1.8 .3 3.9 .2 5.1 .3 .9 .3 3.6 .2 .4 .3 .7 .3 3.6 .3 1.2 .2 .4 .3 .2 .3 1.9 .3-1.4 .2-.2 .3 1.2 .3 .9 .3-.6 .2 .8 .3 .5 .3-2.1 .2 .7 .3-.1 .3 .9 .3-2 .2 2.4 .3-2.1 .3 1.7 .3-.7 .2-.1 .3 1 .3-1.6 .3 1.7 .2-.9 .3-.9 .3 2.2 .2-2 .3 1.7 .3-.9 .3 0 .2 1.6 .3-1 .3-.4 .3 1 .2-1.3 .3 1.9 .3-2 .3 1.1 .2-1.1 .3 1.2 .3-1.5 .3 .8 .2 .7 .3-1.9 .3 1 .2 .5 .3-.9 .3 0 .3 .8 .2 0 .3-2.8 .3 .1 .3-2.6 .2 1.4 .3-.7 .3-2.9 .3-1.7 .2 .5 .3-1.6 .3 2.7 .2 .2 .3-2.1 .3 4 .3 1.4 .2 1.3 .3 .3 .3-.6 .3 2.1 .2-.3 .3 2.4 .3-.9 .3 .7 .2-2.1 .3 1 .3-.2 .2-.5 .3 .4 .3-1 .3 1.5 .2-.9 .3 .9" fill="none" stroke="#262324" stroke-width="1.0" stroke-linejoin="round"/>
<path d="M158.6 579.7l.3-.3 .2 .3 .3-.5 .3 .6 .3-.6 .2 .4 .3 0 .3-.2 .3 .9 .2-.9 .3 .3 .3 .2 .3-.6 .2 .6 .3-.3 .3 .2 .2-.4 .3-.1 .3 .6 .3-.2 .2-.1 .3 .1 .3 0 .3-.4 .2-.3 .3 .2 .3-.1 .3-.1 .2 .4 .3 .1 .3 .1 .2 0 .3-.1 .3 0 .3 .1 .2-.3 .3 .1 .3 .2 .3-.2 .2 0 .3 .2 .3 .3 .3-.2 .2-.2 .3-.1 .3 .1 .2 .6 .3-1.3 .3 .9 .3-.1 .2 .2 .3-.5 .3 .8 .3-.3 .2-.2 .3 0 .3-.2 .3 .2 .2-.1 .3 .3 .3-.1 .3-.1 .2 .1 .3 0 .3-.1 .2-.4 .3 .6 .3-.5 .3 0 .2 .2 .3 .2 .3 .2 .3-.8 .2 .8 .3 .1 .3-.5 .3 0 .2-.1 .3 0 .3-.2 .2-.1 .3 .4 .3 .1 .3 .4 .2-.7 .3-.3 .3 .6 .3-.2 .2 .3 .3-.2 .3-.3 .3 .2 .2 .4 .3-.2 .3-.3 .2 .5 .3-.6 .3 .2 .3 .2 .2-.4 .3 .1 .3 .3 .3-.1 .2 0 .3-.1 .3-.1 .3 .1 .2 .9 .3-.9 .3 .5 .2-.5 .3 .5 .3 0 .3-.2 .2-.3 .3-.2 .3 .6 .3-.6 .2 0 .3 .7 .3 0 .3-.3 .2-.1 .3-.1 .3 .2 .2-.2 .3-.2 .3 .2 .3 .2 .2-.4 .3 .1 .3 .3 .3 .4 .2-.4 .3 0 .3 .4 .3-.7 .2 .1 .3 .4 .3 0 .2-.1 .3-.8 .3 .8 .3 0 .2-.1 .3 .1 .3 .2 .3-.3 .2-.3 .3-.2 .3 .5 .3-.2 .2 0 .3-.1 .3 .3 .3 .1 .2-.1 .3-.3 .3 .5 .2-.2 .3-.7 .3 .8 .3-.7 .2 .3 .3 .5 .3-.1 .3-.3 .2-.1 .3 .3 .3-.5 .3 .5 .2-.1 .3 .2 .3-.2 .2-.2 .3 .3 .3-.2 .3-.2 .2 0 .3 .1 .3 .2 .3 .2 .2-.2 .3-.3 .3 .2 .3 .3 .2 .1 .3-.5 .3 .3 .2-.2 .3-.4 .3 .2 .3 .2 .2 0 .3 0 .3 0 .3 .2 .2-.3 .3-.2 .3 .6 .3-.3 .2 .3 .3-.4 .3 .6 .2-.7 .3 0 .3 .5 .3 .3 .2-.7 .3 .6 .3 0 .3-.2 .2-.2 .3-.5 .3 .1 .3 .2 .2 .3 .3-.1 .3-.1 .2 .1 .3-.4 .3 .5 .3-.3 .2 .5 .3-.2 .3-.3 .3 .1 .2-.3 .3 .5 .3-.3 .3 .2 .2 .3 .3-.2 .3 0 .2 .6 .3-.5 .3 .1 .3-.4 .2-.2 .3 .4 .3-.4 .3-.4 .2 .9 .3-.1 .3-.4 .3 .6 .2-.3 .3-.1 .3-.1 .3 .5 .2-.4 .3 0 .3 0 .2-.1 .3-.2 .3 .2 .3 0 .2 .4 .3-.5 .3 .5 .3-.3 .2-.1 .3 .2 .3 0 .3 0 .2 .1 .3 0 .3-.5 .2 .2 .3 .6 .3-.4 .3-.6 .2 .6 .3 .4 .3-.1 .3-.3 .2 .1 .3 .1 .3-.2 .3-.1 .2 .5 .3-.5 .3 .3 .2-.6 .3 .2 .3-.1 .3 .4 .2-.3 .3 0 .3 0 .3 .2 .2 .2 .3-.4 .3 .3 .3-.1 .2-.2 .3 .3 .3 .2 .2-1 .3 .9 .3 .2 .3-.5 .2 .3 .3 0 .3-.1 .3-.1 .2 .3 .3 0 .3-.3 .3 .2 .2-.4 .3 .1 .3 .1 .2 0 .3-.2 .3 .5 .3-.2 .2 .1 .3-.5 .3 .2 .3-.1 .2 .1 .3 .5 .3 .2 .3-.6 .2 .1 .3-.2 .3-.1 .2 .4 .3-.3 .3-.2 .3 .4 .2-.2 .3 .2 .3 0 .3 .1 .2-.1 .3 .1 .3-.2 .3 0 .2 .1 .3-.1 .3 .1 .2 0 .3 .4 .3-.6 .3 .2 .2-.1 .3 .3 .3-.5 .3-.1 .2 .6 .3-.1 .3-.2 .3-.2 .2 .5 .3-.2 .3-.3 .3 0 .2 0 .3 .5 .3-.4 .2-.2 .3 .1 .3 .4 .3-.1 .2-.3 .3-.1 .3 .1 .3 .2 .2-.1 .3-.1 .3 .2 .3-.2 .2-.1 .3-.1 .3 .1 .2 .1 .3 .2 .3 0 .3-.3 .2 .5 .3-.6 .3 .6 .3-.6 .2 .2 .3 .3 .3 0 .3-.4 .2 .2 .3-.3 .3 .3 .2 .1 .3-.2 .3 .5 .3-.3 .2 0 .3-.3 .3 .1 .3 .1 .2 .1 .3-.1 .3-.4 .3-.3 .2-.3 .3 .6 .3-.6 .2-.3 .3-.8 .3 .4 .3-.6 .2 0 .3 .1 .3 .1 .3 .9 .2 .1 .3 .3 .3-.1 .3 0 .2 .4 .3 .6 .3 .3 .2-.6 .3 .1 .3-.3 .3 .1 .2 .4 .3-.3 .3 .2 .3 .3 .2-.3 .3-.3 .3 .7 .3-.2 .2-.1 .3 0 .3-.1 .2 .2 .3-.5 .3 .3 .3-.3 .2 .3 .3 .2 .3-.2 .3 .5 .2-.5 .3-.1 .3 .2 .3 0 .2 0 .3-.1 .3 0 .3 .3 .2-.7 .3 .6 .3-.3 .2 .1 .3-.2 .3 .5 .3-.8 .2 .2 .3 .2 .3 .3 .3-.5 .2 .5 .3 .1 .3-.5 .3-.4 .2 .8 .3-.2 .3 0 .2 .3 .3-.1 .3-.3 .3 .2 .2-.3 .3 .3 .3-.1 .3 .2 .2-.3 .3 .2 .3 0 .3 .1 .2-.2 .3-.5 .3 .6 .2-.4 .3 .6 .3-.3 .3 0 .2-.1 .3 .6 .3-.7 .3 .6 .2 0 .3 .4 .3-.4 .3-.4 .2-.2 .3 0 .3-.2 .2 .8 .3-.3 .3-.4 .3 .5 .2-.1 .3 .2 .3-.2 .3-.3 .2 .3 .3 .2 .3-.2 .3 0 .2-.4 .3 .2 .3 .1 .2 .2 .3-.3 .3 0 .3 .7 .2-.8 .3 .2 .3-.2 .3 .2 .2 .2 .3 0 .3-.1 .3 .2 .2-.3 .3 .2 .3-.4 .2 .5 .3-.4 .3 .4 .3-.5 .2 .3 .3 0 .3 0 .3-.1 .2 .4 .3-.3 .3-.4 .3 .2 .2 .4 .3-.5 .3 .7 .2-.6 .3-.4 .3 .7 .3-.4 .2-.7 .3 .9 .3-.3 .3 .3 .2 .2 .3 0 .3-.3 .3-.3 .2 .7 .3-.3 .3 0 .3-.4 .2 .2 .3 .2 .3-.1 .2 .1 .3-.3 .3-.1 .3 .5 .2-.2 .3 .4 .3 0 .3-.4 .2 0 .3 .4 .3-.1 .3-.4 .2 .7 .3-.4 .3-.2 .2-.2 .3 .2 .3 .2 .3 0 .2 .2 .3-.1 .3-.5 .3 .2 .2 0 .3-.1 .3 0 .3-.1 .2 0 .3 .3 .3 .1 .2 .2 .3-.5 .3 0 .3-.6 .2 .7 .3 .1 .3-.2 .3 .2 .2-.2 .3 0 .3-.2 .3 .1 .2-.2 .3 .8 .3-.1 .2-.2 .3-.1 .3 .5 .3-.3 .2-.3 .3 .2 .3 .1 .3-.1 .2 .1 .3-.5 .3 .2 .3-.3 .2 .6 .3-.2 .3-.2 .2 .8 .3-.2 .3-.5 .3 .4 .2-.4 .3 .4 .3 0 .3-.4 .2 .3 .3 .3 .3-.2 .3-.5 .2 .4 .3 .1 .3-.2 .2 .3 .3-.5 .3-.4 .3 1 .2-.7 .3 .3 .3-.4 .3 .6 .2-.5 .3 .3 .3 0 .3 .4 .2 .1 .3-.3 .3 .1 .3-.2 .2-.1 .3-.2 .3 .3 .2-.6 .3 .7 .3-.2 .3 0 .2 .3 .3-.8 .3 .2 .3 .4 .2-.2 .3 .2 .3-.2 .3-.2 .2 .4 .3-.1 .3 .1 .2 0 .3 .4 .3-.8 .3 .1 .2 .5 .3-.6 .3 .3 .3 .2 .2-.1 .3 0 .3-.2 .3-.4 .2 .6 .3 .1 .3-.1 .2-.3 .3 .2 .3 .1 .3-.2 .2-.1 .3-.1 .3 .4 .3-.5 .2 .2 .3 .5 .3-.9 .3 .3 .2 .5 .3-.3 .3 .3 .2-.6 .3 .1 .3 .5 .3-.5 .2 .3 .3-.1 .3 .4 .3-.6 .2 .3 .3 .2 .3 .1 .3-.3 .2 .2 .3-.4 .3 .6 .2-.3 .3 .1 .3 .2 .3-.4 .2 0 .3 .1 .3 .2 .3-.7 .2-.1 .3 .6 .3-.2 .3 .1 .2 .5 .3-.6 .3 0 .2 .4 .3-.6 .3 .3 .3-.1 .2 .1 .3 0 .3-.4 .3 .2 .2 0 .3-.2 .3 .4 .3-.2 .2-.2 .3-.1 .3 .3 .3-.2 .2 .4 .3 .2 .3-.4 .2-.1 .3 .1 .3 .3 .3-.4 .2 .4 .3-.4 .3-.4 .3 1 .2-.2 .3-.2 .3 0 .3 .1 .2 .3 .3-.5 .3 .2 .2-.1 .3-.1 .3 .2 .3 0 .2-.2 .3 .7 .3-1.3 .3 1.1 .2-.7 .3 .1 .3 .4 .3 .1 .2 .1 .3-.7 .3 .9 .2-.8 .3 .3 .3 .3 .3-.4 .2 0 .3 .2 .3-.2 .3-.3 .2 .6 .3 0 .3-.1 .3-.1 .2 .2 .3 0 .3 .1 .2-.2 .3-.6 .3 .6 .3 0 .2 .1 .3 .1 .3-.7 .3-.4 .2 1 .3-.1 .3-.2 .3-.3 .2 .8 .3-.6 .3 .7 .2-.5 .3 .2 .3-.9 .3 .8 .2-.4 .3-.1 .3 .2 .3 .8 .2-.8 .3-.3 .3 .7 .3-.5 .2 .2 .3 .4 .3-.1 .2-.1 .3 .1 .3-.3 .3-.3 .2 .3 .3-.1 .3 .1 .3 0 .2 .1 .3 .1 .3-.4 .3 .1 .2 .2 .3 .2 .3-.4 .2-.4 .3 .7 .3-.6 .3 .3 .2 0 .3 .2 .3-.6 .3 .8 .2-.4 .3 .4 .3-.4 .3 .8 .2-.7 .3-.1 .3-.1 .3-.4 .2 1 .3-.8 .3 .4 .2 .2 .3 0 .3-.2 .3-.2 .2 .3 .3-.1 .3-.4 .3 .1 .2 .4 .3 .1 .3-.9 .3 .8 .2-.2 .3 .3 .3-.2 .2-.1 .3 .3 .3 .1 .3 0 .2-.3 .3 .1 .3 .3 .3-.5 .2-.1 .3 .3 .3-.4 .3 .5 .2-.4 .3 .1 .3 .4 .2-.6 .3 .2 .3 .2 .3 0 .2-.5 .3 .6 .3-.3 .3 .1 .2 .1 .3 .1 .3-.2 .3 .2 .2-.2 .3-.4 .3 0 .2 .1 .3 0 .3 .1 .3-.5 .2 .6 .3 .2 .3 0 .3-.2 .2-.3 .3 .9 .3-.8 .3 .1 .2 .1 .3-.4 .3 .1 .2 .3 .3 .3 .3-.4 .3 .2 .2 0 .3 0 .3-.3 .3 .5 .2-.4 .3-.2 .3 0 .3 .5 .2-.2 .3-.2 .3 .4 .2 0 .3-.2 .3-.4 .3 .3 .2 .1 .3-.3 .3 .9 .3-.7 .2-.3 .3-.1 .3 .7 .3-.3 .2 0 .3-.2 .3 .4 .3-.1 .2-.4 .3 .1 .3-.2 .2 .4 .3-.1 .3 .2 .3-.1 .2 .1 .3-.7 .3 .3 .3-.2 .2-.1 .3 .2 .3 .4 .3-.1 .2 .2 .3-.3 .3 0 .2-.3 .3-.1 .3 0 .3-.2 .2-.3 .3 .3 .3 .1 .3-.8 .2-.4 .3 .3 .3-.8 .3-1 .2-.2 .3-1.4 .3-.1 .2-1.2 .3-1.3 .3-.6 .3-1.2 .2-.3 .3-1.4 .3-.1 .3-.5 .2 .7 .3 .6 .3 .9 .3 1 .2 .4 .3 1.9 .3 .9 .2 .5 .3 .9 .3 .9 .3-.1 .2 .9 .3 .5 .3 .4 .3 .2 .2-.2 .3 .7 .3 .1 .3 0 .2-.2 .3-.1 .3 .3 .2 .2 .3-.4 .3 .2 .3 .3 .2 0 .3-.3 .3-.3 .3 .5 .2-.4 .3 .1 .3 .6 .3-.1 .2-.4 .3 .3 .3 0 .2 .1 .3 .2 .3-.1 .3-.7 .2 .7 .3-.2 .3 0 .3 .1 .2-.1 .3 0 .3 .3 .3 .1 .2 .1 .3-.2 .3 0 .2-.1 .3-.4 .3 .6 .3-.4 .2 .1 .3-.4 .3 .3 .3 .9 .2-.9 .3 .3 .3 .1 .3-.2 .2-.2 .3 .1 .3 .1 .3-.2 .2-.2 .3 0 .3 .7 .2-.2 .3 0 .3 0 .3-.2 .2-.3 .3 .8 .3-.6 .3 .1 .2 0 .3 .3 .3-.4 .3-.4 .2 0 .3 .2 .3 .4 .2 .1 .3-.4 .3 0 .3 .2 .2-.1 .3-.3 .3-.1 .3 .3 .2 .2 .3 0 .3-.1 .3-.4 .2 .4 .3-.8 .3 .5 .2 .1 .3-.5 .3-.2 .3 .7 .2-.5 .3-.1 .3 .3 .3-.3 .2-.6 .3 .2 .3-.3 .3-.1 .2-.4 .3-1.6 .3-1 .2-1.2 .3-3.2 .3-3.9 .3-5.3 .2-5.9 .3-7.4 .3-7 .3-6.2 .2-4 .3-.6 .3 3.1 .3 6 .2 7.1 .3 7.5 .3 6.3 .2 5.4 .3 3.9 .3 3.1 .3 1.9 .2 1.2 .3 .9 .3 1.4 .3-.2 .2 .5 .3 0 .3-.1 .3 .7 .2-.1 .3-.1 .3-.2 .2 .3 .3 .3 .3 .1 .3-.2 .2-.2 .3-.1 .3 .1 .3-.4 .2 0 .3-.6 .3 .9 .3-.1 .2-.2 .3 .1 .3 .5 .3-.1 .2 0 .3 .1 .3 .1 .2-.2 .3 .6 .3-.7 .3 .5 .2-.1 .3-.4 .3 .6 .3-.7 .2 .4 .3-.1 .3 .2 .3-.1 .2 .4 .3-.3 .3 0 .2 0 .3 .1 .3-.3 .3 .4 .2-.2 .3 .1 .3-.1 .3 0 .2 0 .3-.2 .3 .2 .3 .1 .2-.3 .3 .1 .3 .1 .2-.2 .3-.1 .3 .1 .3 0 .2 .3 .3-.3 .3 .1 .3-.3 .2 .3 .3 0 .3 0 .3-.7 .2 .3 .3-.4 .3 .3 .2-.1 .3-.3 .3-.2 .3 .1 .2 0 .3 0 .3 .1 .3 0 .2-1 .3 .1 .3-.4 .3-.4 .2-.7 .3 0 .3-.7 .2-1 .3-.6 .3-1.2 .3-1.6 .2-.7 .3-1.2 .3-1.7 .3-1.2 .2-1.1 .3-2.3 .3-1.8 .3-1.9 .2-1.2 .3-1.4 .3-.8 .2-1.4 .3-.6 .3 0 .3 .9 .2 .6 .3 .4 .3 2.4 .3 .2 .2 1.5 .3 2.1 .3 1.2 .3 1.3 .2 1.4 .3 1.7 .3 1.1 .3 1.1 .2 .6 .3 1.3 .3 0 .2 .7 .3 .4 .3-1.2 .3-.5 .2-1.2 .3-2 .3-3.2 .3-4.6 .2-5.2 .3-7.4 .3-8 .3-9.9 .2-9.9 .3-9.1 .3-7.3 .2-4.1 .3-.5 .3 2.6 .3 6.9 .2 7.5 .3 10 .3 7.1 .3 6.8 .2 5.2 .3 4.2 .3 2.3 .3 .4 .2 .2 .3-.4 .3-.1 .2-.2 .3 1.3 .3 1.4 .3 2.8 .2 1.7 .3 3.1 .3 2.9 .3 2.7 .2 2.2 .3 1.8 .3 1.8 .3 1.6 .2 .4 .3 1.5 .3 .2 .2 .9 .3 .6 .3-.4 .3 .3 .2 .3 .3 0 .3 .5 .3 .1 .2-.5 .3 0 .3 .4 .3-.1 .2 .4 .3 .2 .3-.3 .2-.2 .3 .1 .3 .3 .3 0 .2-.1 .3 0 .3 .3 .3-.2 .2 .2 .3 .2 .3-.7 .3 .5 .2-.2 .3 0 .3 .2 .2-.3 .3 0 .3 1 .3-.3 .2-.2 .3-.5 .3 .1 .3-.1 .2 .1 .3 .1 .3 0 .3-.6 .2 .4 .3-.4 .3-.2 .2-.7 .3-.3 .3-1.2 .3 0 .2-.9 .3-.2 .3 .2 .3 .3 .2-.1 .3 1.6 .3 .1 .3 .6 .2 .4 .3 .2 .3 .3 .3 .2 .2-.1 .3-.2 .3 .2 .2 .5 .3-.3 .3-.1 .3 .4 .2-.5 .3 .6 .3-.3 .3-.2 .2-.2 .3 0 .3-.1 .3 .5 .2 .2 .3-.3 .3-.4 .2 .1 .3-.6 .3 .2 .3 .1 .2 .5 .3-.5 .3 .2 .3-.2 .2-.5 .3 .2 .3-.4 .3-.2 .2 .3 .3-.1 .3-.1 .2-.1 .3-.6 .3-.2 .3 0 .2-.2 .3 .1 .3-.5 .3-.6 .2-.1 .3-.5 .3-.9 .3-.2 .2-1.8 .3-.9 .3-1.5 .2-2.7 .3-3.1 .3-4.7 .3-4.8 .2-6.6 .3-8.8 .3-9.7 .3-12.1 .2-13.6 .3-15.1 .3-16.7 .3-16.9 .2-17.4 .3-15.6 .3-14.7 .2-12 .3-7.1 .3-2.1 .3 2.8 .2 6.4 .3 11.4 .3 13.9 .3 17.1 .2 16.6 .3 17 .3 17 .3 14 .2 14.8 .3 11.4 .3 10.7 .2 8.1 .3 6.7 .3 5.7 .3 4.1 .2 3.9 .3 1.7 .3 2.5 .3 1 .2 .7 .3 .4 .3 1.3 .3 .3 .2-.1 .3 1.4 .3-.3 .3 .2 .2 .6 .3 .1 .3 0 .2 .1 .3 .2 .3-.5 .3 .5 .2 .2 .3 .9 .3-.4 .3-.1 .2 .2 .3-.2 .3 .4 .3-.2 .2 .3 .3 0 .3 0 .2-.1 .3 0 .3-.1 .3 .3 .2 0 .3 .1 .3 .1 .3 .1 .2 0 .3 0 .3 .3 .3 .2 .2-.6 .3 .3 .3 0 .2-.3 .3 .4 .3-.2 .3 .5 .2-.6 .3 .4 .3-.4 .3 0 .2 .5 .3-.2 .3 .3 .3 0 .2-.7 .3 .8 .3-.6 .2 .2 .3-.1 .3 .3 .3 0 .2-.1 .3 .6 .3-.7 .3 0 .2-.1 .3 .7 .3-.7 .3 .3 .2-.1 .3 0 .3 .1 .2-.3 .3 .2 .3 .3 .3-.5 .2 .5 .3-.3 .3 .4 .3-.3 .2-.2 .3 0 .3 .7 .3-.2 .2-.4 .3 .9 .3-.9 .2-.1 .3 .6 .3-.4 .3 .4 .2-.5 .3 .4 .3-.2 .3 0 .2 .2 .3-.4 .3 0 .3 .1 .2 0 .3 .1 .3 .1 .2-.3 .3 0 .3 .4 .3 .5 .2-.6 .3 .1 .3-.4 .3-.1 .2 .4 .3 .3 .3-.5 .3 .2 .2-.3 .3-.2 .3 .1 .3-.2 .2 .4 .3-.2 .3 .5 .2-.1 .3-.4 .3 .1 .3-.2 .2 .4 .3 .2 .3-.6 .3-.4 .2-.1 .3 .1 .3 0 .3-.3 .2-.2 .3 0 .3-.2 .2-.3 .3-.5 .3-.1 .3-.5 .2 0 .3-.4 .3 0 .3-.6 .2-.6 .3-.3 .3 .3 .3-1.1 .2 .1 .3-.4 .3-.3 .2 0 .3-.5 .3 .1 .3-.2 .2 .3 .3-.2 .3 0 .3 .5 .2 .2 .3 .2 .3 .1 .3 .9 .2-.3 .3 .8 .3 .2 .2 .7 .3 .3 .3 .5 .3-.5 .2 .7 .3-.1 .3 .8 .3 .7 .2-.6 .3 .5 .3-.6 .3 .6 .2 .5 .3-.3 .3 .2 .2 0 .3 .4 .3-.3 .3 0 .2 0 .3 .3 .3 .1 .3-.3 .2 .2 .3-.2 .3 .1 .3 .2 .2-.6 .3-.4 .3-.5 .2-.5 .3-.5 .3-.2 .3-.5 .2 0 .3-.4 .3 .5 .3-.1 .2 .1 .3 .5 .3-.1 .3 1.4 .2-.1 .3 0 .3 .7 .3-.1 .2 .1 .3 .3 .3-.2 .2 .5 .3-.4 .3-.1 .3 .3 .2-.4 .3 0 .3 .2 .3 .1 .2-1.2 .3-.2 .3-.1 .3 .1 .2-.7 .3-.1 .3-.9 .2-.2 .3-.8 .3-.8 .3-.2 .2-.1 .3-.6 .3-.1 .3-.4 .2-.6 .3 .5 .3 .2 .3 .6 .2 .3 .3 .3 .3 .3 .2 .9 .3-.1 .3 .6 .3 .4 .2 .8 .3 .7 .3-.2 .3 1.2 .2-.6 .3 1 .3-.4 .3 .4 .2-.3 .3 .4 .3-.1 .2 .6 .3-.5 .3 .5 .3 .3 .2-.5 .3 0 .3 .2 .3-.7 .2 .6 .3 .2 .3-.1 .3-.3 .2 .3 .3 .2 .3 0 .2-.3 .3 .1 .3-.1 .3-.2 .2 .2 .3-.1 .3 .2 .3 .1 .2 .6 .3-.4 .3-.1 .3-.2 .2 .5 .3 0 .3-.4 .2-.1 .3 .1 .3 0 .3-.4 .2 .4 .3-.1 .3 .4 .3-.2 .2-.1 .3 .3 .3-.1 .3-.1 .2-.2 .3-.1 .3 .4 .3-.1 .2-.1 .3 .1 .3-.4 .2 .7 .3-.2 .3 .2 .3-.6 .2 .3 .3-.2 .3 .5 .3 .3 .2-.6 .3 .1 .3 .2 .3-.6 .2 .3 .3-.1 .3 .1 .2-.3 .3-.1 .3 .1 .3 .3 .2 0 .3 .2 .3-.1 .3 .1 .2-.1 .3-.1 .3 .1 .3-.2 .2 .2 .3-.1 .3 .8 .2-1.1 .3 .5 .3 0 .3-.1 .2-.1 .3-.1 .3-.2 .3 .2 .2 .1 .3-.3 .3 .4 .3-.5 .2 .7 .3 .2 .3-.6 .2 .1 .3 .5 .3-1 .3 .3 .2-.1 .3 .1 .3 .5 .3 0 .2-.4 .3 .4 .3-.7 .3 .2 .2 .5 .3 .2 .3-.2 .2-.1 .3-.2 .3 .3 .3-.3 .2 .4 .3-.4 .3 .2 .3-.6 .2 .3 .3 .2 .3-.5 .3 .5 .2 0 .3-.2 .3-.1 .2 .1 .3-.5 .3 .4 .3 .7 .2-.8 .3 .2 .3-.3 .3 .9 .2-.7 .3 .2 .3 .1 .3-.2 .2 .8 .3-.5 .3-.2 .2-.5 .3 .6 .3-.3 .3 .4 .2-.3 .3-.2 .3 .5 .3-.2 .2-.1 .3 0 .3 0 .3-.1 .2 .3 .3-.5 .3 .4 .3-.2 .2 .4 .3-.2 .3 .2 .2-.5 .3-.3 .3 .7 .3-.2 .2-.3 .3 .5 .3 .1 .3-.4 .2 .2 .3-.3 .3 .1 .3 .2 .2-.1 .3 0 .3-.1 .2 .4 .3-.1 .3 .4 .3-.7 .2 0 .3 .2 .3-.3 .3 0 .2 0 .3 .1 .3 .1 .3-.1 .2 .3 .3 .1 .3-.1 .2-.1 .3-.2 .3 0 .3-.2 .2 .6 .3 0 .3 .1 .3-.7 .2 .8 .3-.4 .3 0 .3 .3 .2-.3 .3-.2 .3 .2 .2-.3 .3 .1 .3 .3 .3-.6 .2-.1 .3 .5 .3-.2 .3-.1 .2-.1 .3-.5 .3 .1 .3-.8 .2-.4 .3 .1 .3-.7 .2-.4 .3-.6 .3 .4 .3 0 .2-.3 .3 .6 .3 .4 .3 .4 .2 0 .3 1.1 .3 .2 .3-.3 .2 .4 .3 .8 .3-.2 .2-.4 .3 .3 .3 .1 .3-.1 .2 0 .3 0 .3 .1 .3 .3 .2-.5 .3 .6 .3-.2 .3-.1 .2 .4 .3-.1 .3-.2 .3 .1 .2-.2 .3 .2 .3 .1 .2 0 .3-.5 .3 .1 .3 .2 .2-.2 .3 0 .3 .6 .3-.6 .2 .2 .3-.3 .3 .3 .3 .2 .2-.3 .3 0 .3 .1 .2-.1 .3-.1 .3 .2 .3 0 .2-.2 .3 .3 .3-.5 .3 .1 .2 .4 .3 .2 .3-.4 .3-.3 .2 .2 .3 .3 .3 0 .2 0 .3 0 .3-.5 .3 .2 .2 0 .3 0 .3 .5 .3-.2 .2-.4 .3 .2 .3-.6 .3 .8 .2-.3 .3 .2 .3 0 .2-.5 .3 .5 .3-.2 .3 0 .2-.2 .3 .3 .3 .2 .3 0 .2-.1 .3-.1 .3 .4 .3-.4 .2 .1 .3 .4 .3-.9 .2 .1 .3 .1 .3 .1 .3 0 .2 .1 .3 .4 .3-.1 .3-.4 .2 .3 .3-.1 .3-.2 .3 .4 .2 .1 .3-.6 .3 .5 .2-.5 .3 .1 .3 .2 .3-.3 .2 .1 .3 .1 .3 .1 .3-.2 .2 0 .3-.1 .3 .3 .3 0 .2-.4 .3 .4 .3 .2 .2-.2 .3 .1 .3-.1 .3-.2 .2-.1 .3 .1 .3 0 .3-.3 .2 0 .3 .6 .3-.7 .3 .1 .2 0 .3 .3 .3-.1 .3 .2 .2-.4 .3 .6 .3-.4 .2-.1 .3 .4 .3 0 .3 .1 .2-.7 .3 .3 .3 .1 .3-.1 .2-.4 .3 .6 .3 0 .3-.1 .2-.3 .3 .1 .3 .3 .2-.3 .3 .2 .3 0 .3-.1 .2 .3 .3-.3 .3 .3 .3 .2 .2-.4 .3-.3 .3 .2 .3 .2 .2 .1 .3-.5 .3 .2 .2 0 .3-.2 .3 .3 .3-.1 .2 .4 .3-.6 .3 .4 .3-.2 .2 .2 .3-.3 .3 0 .3 .4 .2 0 .3-.4 .3 .3 .2-.3 .3 .1 .3 .5 .3-.3 .2-.1 .3 .1 .3-.3 .3 .1 .2 .1 .3-.4 .3 .2 .3 .5 .2-.5 .3 0 .3 .3 .2 .1 .3-.5 .3 .3 .3-.5 .2-.1 .3 .3 .3 .4 .3-.6 .2 .2 .3 0 .3-.5 .3 .2 .2 .4 .3-.2 .3-.2 .2-.7 .3 .5 .3 0 .3-.8 .2 .3 .3-.5 .3-.6 .3 .3 .2-.4 .3-1.2 .3-.2 .3-1.1 .2-.8 .3-1.1 .3-.9 .3-.9 .2-.6 .3-1.1 .3-.3 .2-.8 .3-.4 .3 .3 .3 .8 .2 .3 .3 .9 .3-.1 .3 1.3 .2 .8 .3 1.2 .3 .9 .3 .3 .2 1.1 .3 .8 .3 .7 .2-.3 .3 1.3 .3-.2 .3 .5 .2-.3 .3 .4 .3 .3 .3 0 .2-.4 .3-.5 .3 .5 .3-.5 .2-.1 .3 .1 .3-.9 .2 1 .3-1 .3 .7 .3 .4 .2-.2 .3 .7 .3-.5 .3 .7 .2 .1 .3-.1 .3 .5 .3-.4 .2 0 .3 .8 .3-.1 .2-.5 .3-.1 .3 .3 .3-.1 .2 .6 .3-.5 .3 .3 .3-.3 .2-.3 .3 .9 .3-.4 .3-.4 .2 .3 .3 .3 .3-.5 .2-.1 .3 .1 .3 .5 .3 .3 .2-.8 .3 .1 .3 .1 .3 0 .2 .4 .3-.2 .3-.2 .3 .3 .2-.3 .3-.4 .3 .3 .2 .6 .3-.4 .3-.2 .3 .2 .2-.4 .3 .1 .3-.1 .3 .1 .2 .2 .3-.2 .3-.1 .3 .1 .2-.2 .3 .1 .3 0 .3-.3 .2-.3 .3 .4 .3-.7 .2 .6 .3-.2 .3-.5 .3 0 .2 0 .3-.7 .3 .8 .3 0 .2-.6 .3 0 .3-.3 .3 0 .2 .1 .3-.2 .3-.7 .2 0 .3 .1 .3-.6 .3-.2 .2 0 .3 .1 .3-.1 .3-.8 .2 .3 .3 .3 .3-.5 .3 .2 .2 0 .3 0 .3-.1 .2-.3 .3 .7 .3-.1 .3-.1 .2 .4 .3-.2 .3 0 .3 .1 .2 .4 .3 .5 .3 0 .3-.2 .2-.2 .3 .4 .3 .1 .2 .6 .3 .4 .3-1.1 .3 .7 .2 .4 .3 .6 .3-.3 .3 .1 .2 .4 .3-.4 .3 .1 .3-.1 .2 .4 .3-.5 .3 .5 .2 0 .3 .1 .3 .1 .3 .3 .2-.1 .3-.2 .3 .3 .3-.3 .2-.1 .3 .2 .3-.3 .3 .6 .2-.2 .3-.1 .3 .2 .2 .1 .3-.8 .3 0 .3 0 .2-.6 .3 .1 .3-.6 .3-.2 .2-.2 .3-.5 .3-1 .3 0 .2 0 .3-.9 .3-.3 .2 0 .3 0 .3-.4 .3 .9 .2 .1 .3 .2 .3 0 .3 .5 .2 0 .3 .9 .3-.2 .3-.6 .2 .4 .3 .1 .3 0 .3-.5 .2 .2 .3-.3 .3-.2 .2-.5 .3 .2 .3-1.1 .3-.8 .2 .3 .3 .5 .3-.4 .3-1.2 .2-.4 .3 .5 .3-1.1 .3 .7 .2-.6 .3 .1 .3-.1 .2 .2 .3 .2 .3 .1 .3 .2 .2 .4 .3 .2 .3 1.2 .3 0 .2-.3 .3 .7 .3 .7 .3-.4 .2 .7 .3 .1 .3 .4 .2 .7 .3 .2 .3-.3 .3 .8 .2-.3 .3 .7 .3 .4 .3-.2 .2 .7 .3-.4 .3 0 .3 .3 .2 .1 .3 .5 .3-.4 .2 .6 .3-.3 .3-.1 .3 .2 .2 .1 .3-.1 .3-.2 .3 .3 .2 .3 .3-.3 .3 .4 .3-.6 .2 .4 .3-.1 .3 .1 .2-.2 .3 .3 .3-.1 .3 0 .2-.1 .3-.3 .3 .3 .3-.6 .2 1 .3-.3 .3 .2 .3-.4 .2 .4 .3-.1 .3 .1 .2-.3 .3 .5 .3-.1 .3 .3 .2-.2 .3-.5 .3 .1 .3 .5 .2-.4 .3-.3 .3 .4 .3 0 .2 0 .3 .1 .3-.4 .3 .1 .2 .1 .3 .3 .3-.1 .2-.2 .3 .3 .3-.6 .3 .3 .2-.1 .3 .4 .3-.6 .3 .9 .2-1 .3 .7 .3-.4 .3 0 .2 .2 .3-.1 .3 .3 .2 .1 .3-.1 .3-.5 .3 .3 .2 .1 .3-.2 .3 .3 .3-.2 .2 .1 .3 .1 .3 .1 .3-.5 .2 0 .3 .5 .3-.8 .2 0 .3 0 .3 .7 .3-.2 .2-.4 .3 .4 .3-.4 .3 .4 .2-.1 .3-.1 .3 .3 .3-.1 .2-.3 .3-.4 .3 .3 .2 .1 .3 0 .3-.1 .3 .3 .2 0 .3-.3 .3 .3 .3-.7 .2 .2 .3 .4 .3-.1 .3 0 .2 .1 .3-.1 .3 .1 .2 .1 .3 .2 .3-.4 .3-.1 .2 .3 .3 .4 .3-.3 .3-.4 .2 .7 .3-.7 .3 .2 .3 .4 .2-.4 .3 .1 .3 0 .2-.2 .3 .3 .3-.1 .3-.1 .2-.5 .3 .7 .3-.2 .3-.4 .2 .2 .3 0 .3 .6 .3-.4 .2 .1 .3 .2 .3 .2 .2-1.2 .3 .8 .3 .4 .3-.4 .2-.2 .3 .5 .3-.4 .3-.2 .2 .1 .3 .2 .3 .1 .3-.3 .2-.4 .3 .3 .3-.1 .3-.1 .2 .3 .3-.1 .3-.1 .2 .2 .3-.3 .3 .4 .3-.5 .2 .1 .3-.3 .3 .2 .3 0 .2 .3 .3-.1 .3 .1 .3 0 .2-.4 .3-.1 .3 0 .2 .4 .3-.8 .3 .6 .3-.9 .2 .5 .3-.5 .3 .5 .3-.3 .2 .2 .3-.3 .3-.6 .3 .1 .2-1.2 .3-.2 .3-.5 .2 .3 .3-1.3 .3-.7 .3-.9 .2-.3 .3-.5 .3-.5 .3-1.9 .2-.6 .3-.1 .3-1.3 .3-.1 .2-.6 .3-.6 .3-.2 .2 0 .3 .6 .3 .3 .3-.5 .2 1.7 .3 .6 .3 1 .3 .7 .2 .6 .3 .8 .3 .5 .3 1.1 .2 .3 .3 1 .3 .6 .2 .3 .3 .5 .3-.1 .3 .7 .2 .2 .3 .4 .3 .1 .3 0 .2 .2 .3 .3 .3-.1 .3 .5 .2 .1 .3 .4 .3-.2 .2 0 .3-.4 .3 .3 .3-.3 .2 .5 .3-.1 .3 .2 .3 .1 .2-.4 .3 .2 .3-.4 .3 .2 .2 .5 .3-.3 .3 .3 .3-.1 .2-.6 .3 .5 .3-.2 .2 .2 .3-.2 .3 .2 .3 .1 .2 .2 .3-.1 .3-.3 .3 .2 .2-.4 .3 .1 .3 .4 .3 .1 .2-.5 .3 .4 .3-.2 .2-.1 .3 .1 .3 .1 .3 .1 .2 .2 .3-.4 .3 .2 .3-.3 .2 .3 .3-.1 .3-.1 .3 .1 .2 .2 .3 .3 .3-.5 .2-.3 .3 .1 .3 .1 .3 .3 .2-.5 .3 1 .3-.8 .3 .4 .2-.9 .3 .9 .3-.4 .3-.1 .2 .2 .3 .3 .3-.3 .2 .4 .3-.2 .3 0 .3-.1 .2 .3 .3-.1 .3-.1 .3-.1 .2 .1 .3 0 .3-.3 .3 .4 .2-.7 .3 .4 .3 .2 .2 0 .3-.2 .3 0 .3 0 .2 .3 .3-.1 .3-.5 .3 .5 .2 0 .3-.6 .3 .5 .3-.1 .2 .2 .3 .3 .3-.4 .2 .4 .3-.7 .3 0 .3 .2 .2-.1 .3-.2 .3 .6 .3 .3 .2-.9 .3 .2 .3 .2 .3-.2 .2-.4 .3 .5 .3-.4 .3 0 .2 0 .3 .3 .3-.7 .2 0 .3-.3 .3 .4 .3 .2 .2-.2 .3-.7 .3-.1 .3-.1 .2-.2 .3-.1 .3 0 .3-.9 .2 0 .3-.4 .3 .4 .2-.3 .3-.3 .3 .3 .3-.4 .2 .2 .3-.2 .3 .8 .3-.3 .2 .3 .3-.3 .3 .1 .3 .1 .2 .4 .3-.3 .3 .2 .2 .3 .3 .2 .3-.6 .3-.3 .2-.4 .3-.6 .3-.1 .3-.6 .2-.6 .3-.9 .3-.1 .3-.6 .2-.6 .3-.1 .3-.4 .2 .9 .3 .1 .3 .3 .3 .4 .2 1.2 .3 .3 .3 1.1 .3 .2 .2 .4 .3 .6 .3 1.2 .3 0 .2-.2 .3 .6 .3-.4 .2 .6 .3-.2 .3-.2 .3 .4 .2-.3 .3 .5 .3-.2 .3 .2 .2 0 .3 .6 .3-.5 .3 .5 .2-.6 .3 0 .3 .1 .2 .3 .3-.2 .3 .1 .3-.1 .2-.4 .3 .5 .3-.5 .3 .5 .2-.3 .3 .4 .3-.5 .3 .2 .2 .2 .3-.3 .3 .6 .2-.6 .3-.1 .3 .2 .3-.1 .2 .4 .3-.7 .3 .3 .3-.1 .2-.1 .3 .3 .3-.3 .3-.2 .2 .6 .3 0 .3-.6 .3 .1 .2 .5 .3-1 .3 .9 .2-.3 .3 .1 .3-.2 .3 0 .2 .4 .3-.4 .3-.2 .3-.6 .2 .5 .3-.1 .3 0 .3-.5 .2 .2 .3-.2 .3-.3 .2-.1 .3-.4 .3-.2 .3-.7 .2-.8 .3-.6 .3-.8 .3-1.1 .2-2.2 .3-1.4 .3-2.2 .3-3.9 .2-2.4 .3-2.7 .3-3.9 .2-2.6 .3-3.3 .3-3 .3-1.3 .2-.6 .3 0 .3 1.5 .3 2.5 .2 2.3 .3 3.6 .3 2.4 .3 3.3 .2 4.1 .3 2.3 .3 2.2 .2 2.8 .3 1.6 .3 1.2 .3 1.4 .2 .8 .3 .1 .3 1.2 .3 .4 .2 .3 .3 .1 .3 .3 .3 .2 .2 .2 .3-.7 .3 .8 .2-.2 .3 .7 .3-.5 .3 .2 .2 .2 .3-.1 .3 0 .3-.2 .2 .6 .3-.3 .3 .2 .3 .4 .2-.1 .3 .1 .3-.4 .2-.1 .3 .4 .3-.4 .3 .3 .2-.1 .3 0 .3 .1 .3-.2 .2 .3 .3-.3 .3 0 .3 0 .2 .4 .3-.5 .3 .3 .3 .2 .2-.2 .3 .2 .3 0 .2-.3 .3 .5 .3-.3 .3 .4 .2-.1 .3 0 .3-.2 .3-.3 .2 .7 .3-.4 .3-.6 .3 1 .2-.1 .3-.4 .3-.2 .2 0 .3 0 .3 .1 .3 .1 .2 0 .3 0 .3 .1 .3-.2 .2 .1 .3 .3 .3-.1 .3-.2 .2 0 .3-.2 .3 .7 .2-.2 .3-.3 .3-.1 .3 .4 .2-.1 .3 0" fill="none" stroke="#5c595a" stroke-width="0.9" stroke-linejoin="round"/>
<path d="M158.6 875.7l.3 1.6 .2-.9 .3 .6 .3 .9 .3-.9 .2 .9 .3-.5 .3 .6 .3-2.6 .2 .2 .3-.5 .3 1.9 .3-.8 .2 1.2 .3-.6 .3-.2 .2 2.1 .3-1.6 .3-.7 .3-1 .2 2.3 .3-.3 .3-2.1 .3 1 .2 .4 .3-2 .3 1.4 .3 1.8 .2-3.2 .3 2.2 .3 1.5 .2-2.6 .3 .1 .3 .7 .3 .4 .2-.2 .3-2 .3 .8 .3 .9 .2-.4 .3 1.5 .3-1.5 .3-.1 .2 2.3 .3-2 .3-.9 .2 1 .3-.3 .3 1 .3-.2 .2-.9 .3 0 .3-.2 .3 2 .2 .7 .3-2.2 .3 .7 .3-.3 .2-.9 .3 0 .3 0 .3-1.5 .2 1.3 .3 1.2 .3 .5 .2-1.2 .3-.2 .3 1.1 .3 1.5 .2-3.1 .3 .1 .3 .4 .3 1 .2-1.5 .3 1.4 .3-1.2 .3 1.3 .2-.9 .3-.1 .3 1.3 .2-2.1 .3 .4 .3 1.6 .3 0 .2-.6 .3-2.5 .3 3.1 .3-.4 .2-.8 .3-1.7 .3 3 .3 .9 .2-1.3 .3 .9 .3-2.1 .2 .9 .3-.9 .3-.5 .3 .8 .2-.6 .3 .2 .3 0 .3 .3 .2 .2 .3 .4 .3-1.5 .3 1.7 .2-2.3 .3 2 .3 0 .2-2.5 .3 2.1 .3 1.5 .3-.7 .2-1 .3 0 .3 .8 .3-.1 .2 .7 .3-.7 .3 .8 .3-.5 .2-1.3 .3-.2 .3 .5 .2 1 .3-1.4 .3 1.9 .3-2.6 .2 1.3 .3-.7 .3 1.3 .3-.1 .2-.4 .3-1.1 .3 .4 .3 .2 .2 1.7 .3-1.7 .3 1.2 .2 .5 .3-1.9 .3 .3 .3-1.7 .2 1.9 .3 1.1 .3-1.7 .3 1.3 .2 .5 .3-.4 .3-.9 .3 .7 .2-.9 .3 .2 .3 3 .3-3.1 .2-.2 .3 .9 .3 .1 .2 .5 .3-1.6 .3-.3 .3 .1 .2 1.8 .3 .4 .3-2 .3 .3 .2 .5 .3-1 .3 .5 .3 1.5 .2-2.3 .3 1.7 .3 .9 .2-2.4 .3 2.3 .3-1.2 .3-.6 .2 1.5 .3-.8 .3-.3 .3-.4 .2-.3 .3 .3 .3 .3 .3 1.1 .2-1.1 .3 .6 .3-.7 .2 .9 .3-.6 .3 1.4 .3-1 .2-2.1 .3 1.6 .3-.3 .3 1.5 .2-1 .3 .9 .3-.1 .3-1.5 .2 .3 .3 .4 .3-1.2 .2 4.7 .3-3 .3-1.9 .3-.1 .2 1.6 .3-.6 .3-1.2 .3-.2 .2 1.9 .3-.6 .3 1 .3-.6 .2 1.3 .3-3.1 .3 2.6 .2-1.5 .3-.2 .3 2 .3-3 .2 1.9 .3-.3 .3 1.7 .3-2.8 .2 1.9 .3 .1 .3-.5 .3 .1 .2-.3 .3-1.3 .3 .9 .2-1.4 .3 3 .3 0 .3-2.5 .2 2.8 .3-1.5 .3-1.4 .3 .8 .2 1.4 .3-.7 .3-1.1 .3 1.9 .2-1 .3-.3 .3-.8 .3 1.9 .2 .3 .3-2 .3 .8 .2 .1 .3 .4 .3-1.3 .3 3.2 .2-1.8 .3 .7 .3-1.3 .3 2.5 .2-1.7 .3-2.4 .3 3 .3-1.1 .2-1.1 .3 1.1 .3-.9 .2 1.7 .3-.1 .3-2.2 .3 2.2 .2 .4 .3-3.7 .3 4 .3-.7 .2 .2 .3 .6 .3-1.6 .3-.8 .2 1.3 .3-.6 .3 .7 .2-3 .3 2 .3 3.2 .3-2.3 .2 .6 .3-.7 .3-.7 .3 1.3 .2-.1 .3-1.2 .3 .2 .3 .9 .2-1.6 .3 0 .3 2.1 .2 0 .3-1.4 .3 1.8 .3-.7 .2-.5 .3-1 .3 1.4 .3-1.4 .2 .5 .3-.6 .3 1.9 .3-1.1 .2-.1 .3 .6 .3 2 .2-1.6 .3-2.7 .3 1.6 .3 .1 .2-.7 .3-.4 .3 2.8 .3-1 .2 .2 .3-.6 .3 .5 .3-.3 .2-.4 .3-.4 .3-.8 .2 .3 .3 .7 .3-.9 .3 1.3 .2-1.4 .3 1.8 .3-2.3 .3 1.8 .2 1 .3-.4 .3-1.5 .3 2 .2-1.4 .3 .3 .3-.4 .2-1.8 .3 2.4 .3-.1 .3 .3 .2-1.8 .3 1.9 .3-1.6 .3-.5 .2 .1 .3 1.3 .3-.6 .3 2 .2-.7 .3 .3 .3-1.4 .3-.9 .2-.6 .3 1.5 .3 1.5 .2 0 .3-3.1 .3 2.1 .3 .4 .2-1.8 .3 1.1 .3-.8 .3 .9 .2 .1 .3-.6 .3 .2 .3-.6 .2 .8 .3-3.5 .3 3.9 .2 .6 .3-2.5 .3 1.2 .3 .8 .2-1.4 .3 .1 .3 .6 .3 .9 .2-2.3 .3 1.7 .3 .3 .3-2 .2 1.6 .3 1.3 .3-1.5 .2-.2 .3 1.7 .3-2.2 .3 .4 .2 1.6 .3 .4 .3-3.1 .3 .9 .2 .7 .3 .8 .3-1 .3-1.4 .2 1.2 .3-4.1 .3 1.4 .2-1.4 .3-2.6 .3-4.4 .3-5.7 .2 1 .3-1 .3 3 .3 5.6 .2-.3 .3 7.4 .3 0 .3 .9 .2-.7 .3 1.2 .3 .1 .2-.4 .3-1.8 .3 2.2 .3-.2 .2 .8 .3-.6 .3-.1 .3-.1 .2-1.7 .3-.4 .3 1.9 .3-.7 .2 1.3 .3-1.8 .3 .7 .2 1.4 .3-.8 .3-.9 .3 1.5 .2-.3 .3-1.4 .3 .4 .3 .9 .2-.4 .3-.1 .3-.3 .3-2.2 .2 3.3 .3-.2 .3-.4 .3-1.8 .2 1.5 .3 .4 .3-.2 .2 .1 .3-2.3 .3 3 .3 0 .2 .1 .3 .6 .3-1.1 .3 1.2 .2-2.7 .3 2 .3-1 .3 1.7 .2-2 .3 0 .3-.2 .2 1.2 .3-1.3 .3 1.7 .3-.1 .2-.7 .3 0 .3-.8 .3 2.7 .2-1.2 .3-2 .3 2.2 .3-2.2 .2 1.5 .3 .3 .3-1 .2-.3 .3 1 .3 .2 .3-.4 .2 .2 .3-1.8 .3 1.4 .3-1 .2 1.1 .3-1.2 .3 .2 .3-.1 .2 .5 .3 .1 .3 .2 .2 .7 .3-1.6 .3 2.7 .3-2.1 .2-.4 .3 1.1 .3-.8 .3-.1 .2 .7 .3-1.5 .3 2.4 .3-2.5 .2 .7 .3 1.9 .3 0 .2-.8 .3-1.9 .3 1.1 .3-.2 .2-.1 .3 .4 .3 .7 .3 .5 .2-.6 .3-1.2 .3 .9 .3 .3 .2 .6 .3-1.5 .3 .1 .2-.2 .3-.5 .3 1.6 .3-1 .2 1.6 .3-.1 .3-.9 .3 .3 .2-.7 .3 .6 .3-.1 .3 1.1 .2-1.7 .3 1.7 .3-.5 .2-.3 .3-1.6 .3 .2 .3 1 .2 .2 .3-1.5 .3 3.1 .3-1.6 .2-.3 .3 .7 .3-1.4 .3-1.3 .2 2 .3-.6 .3 .8 .3 .1 .2-1.8 .3 .8 .3 1.8 .2 .6 .3-1.6 .3 .2 .3 .2 .2 0 .3 2.4 .3-.9 .3-2.5 .2 .4 .3 1.5 .3-.6 .3 .4 .2-.3 .3-1.6 .3-.4 .2-.3 .3 .9 .3 1.1 .3-1 .2 2.7 .3-3.8 .3 1.4 .3 1.4 .2 .8 .3-2.9 .3 1.3 .3 .4 .2-2.8 .3 2.9 .3-.7 .2-.6 .3 1.4 .3-.9 .3-.9 .2 2.2 .3-2.1 .3 2.1 .3-3.9 .2 3.5 .3-1.3 .3 .6 .3-.1 .2 .9 .3-2 .3 .7 .2-.2 .3 .9 .3-.5 .3 .3 .2 .1 .3-2.2 .3 1.5 .3 .4 .2 .1 .3 2.4 .3-1.8 .3 .5 .2-1.8 .3 1.3 .3 1.1 .2-2.4 .3-.2 .3-.9 .3 .2 .2 3.1 .3-3.3 .3 1.4 .3 1 .2-.7 .3 .1 .3-.4 .3 1.2 .2-2.6 .3 1.1 .3 .4 .2-2 .3 1.2 .3 .6 .3 1.8 .2-2.3 .3 1.9 .3-2 .3 2.5 .2-2.2 .3 1.6 .3 2 .3-2.1 .2 .5 .3-2.7 .3 1.8 .3 .1 .2-1 .3 .5 .3-1.4 .2 .6 .3-.8 .3-.3 .3 2.4 .2-1.7 .3 1.2 .3 1.6 .3-.8 .2-1.8 .3 .4 .3-.5 .3 .7 .2 1.9 .3-.1 .3-2.3 .2-1 .3 2.6 .3-3.6 .3 3.1 .2-3.1 .3 2.9 .3-.2 .3-.7 .2-.8 .3 1.8 .3-.2 .3-.3 .2 2.3 .3-2.8 .3-.4 .2 2.1 .3 1.7 .3-4.1 .3 .4 .2-.5 .3 .6 .3 0 .3-2.7 .2-1.3 .3-3.8 .3-2.8 .3-5.3 .2-3.3 .3-2.6 .3 2.2 .2 1.9 .3 6.1 .3 4.3 .3 3.7 .2 .4 .3 1.7 .3 2.1 .3-.3 .2-1 .3 .8 .3-.2 .3 .6 .2-.5 .3-.7 .3 1.2 .2-1.7 .3 2.3 .3 .4 .3-.1 .2-2.4 .3 1.4 .3 1 .3-.6 .2 .1 .3-.2 .3 .7 .3-1 .2-1.6 .3 2.1 .3 2 .2-1.6 .3-.1 .3 1.5 .3-2.9 .2-.3 .3 .6 .3 1 .3 1.4 .2-.7 .3-1.3 .3 1.6 .3-1.2 .2 0 .3-.5 .3-.8 .3 .8 .2-.8 .3-1.2 .3 1.3 .2 2.3 .3-1.7 .3-1.2 .3 1.6 .2 2.4 .3-2.7 .3 2.8 .3-2 .2-2.8 .3 2.5 .3 1.9 .3-1.7 .2-1.8 .3 1.7 .3 1 .2-3.1 .3 1.8 .3 .2 .3 .8 .2-1.5 .3-.6 .3 1.6 .3-.3 .2-.4 .3-.5 .3 1.4 .3-1.4 .2 2.9 .3-2.7 .3 1.7 .2-.2 .3-.7 .3-.6 .3 1.3 .2-1.1 .3-1 .3 1 .3 .3 .2-2.3 .3 3.1 .3-3.2 .3 2.2 .2-.3 .3-1.8 .3 1.6 .2-.9 .3 1.5 .3-1.1 .3 1 .2 .1 .3 .8 .3-2.1 .3 2.7 .2-4 .3 1 .3 .7 .3-1.3 .2-.1 .3 2.2 .3-2.2 .2 1 .3 1.7 .3 .3 .3-1.6 .2 1.2 .3 0 .3-.2 .3-.9 .2-.7 .3-.5 .3 3 .3-1 .2-.7 .3 .1 .3 .9 .2 .2 .3-1.1 .3-1.1 .3 2 .2-1.3 .3-1.1 .3 3 .3 .5 .2-1.6 .3-.4 .3-.1 .3-.2 .2-.2 .3-.4 .3 0 .2 .3 .3 .5 .3 .2 .3 .4 .2-1.6 .3 1.7 .3-1.7 .3 0 .2 1.5 .3-2.3 .3 1.7 .3-2 .2 1.6 .3 1.2 .3 .2 .3-2 .2 0 .3 2.8 .3-1.2 .2 1 .3-3.1 .3 3.2 .3-1.2 .2-1.7 .3 1.4 .3 1.5 .3-.9 .2-1.9 .3-.5 .3 3 .3-1.6 .2-.6 .3 .4 .3-.3 .2-.8 .3 1.3 .3 .6 .3-1.9 .2 2.7 .3-2 .3 1.2 .3 .5 .2 .1 .3 .6 .3-3.4 .3-.3 .2 .4 .3 1.1 .3 1.1 .2-1.7 .3 .1 .3 .6 .3-.2 .2 3 .3-3.4 .3 3 .3 .5 .2-2.5 .3-.1 .3 0 .3-.5 .2 0 .3-.7 .3 1.8 .2 .5 .3-1.8 .3 1.7 .3-1.4 .2-.2 .3 .8 .3-.4 .3 2.1 .2-.3 .3 0 .3-.6 .3-2.3 .2 .8 .3 .5 .3 2 .2-2.7 .3 2.1 .3-3.4 .3 1.6 .2 .1 .3 1.6 .3-.1 .3-.9 .2 .3 .3-1.9 .3-.5 .3 3.1 .2 1.8 .3-1.9 .3-1.6 .2 1.1 .3-2.6 .3 1.8 .3-.2 .2 1.8 .3-1.1 .3 .7 .3-2.5 .2 1.2 .3-.6 .3 1.7 .3-.6 .2-.1 .3-2.4 .3 4.1 .3-2.3 .2 .4 .3 2.7 .3-1.1 .2-1.5 .3 .6 .3-2.2 .3 .5 .2 1.7 .3-1.4 .3 .2 .3-1.3 .2 .8 .3 0 .3 .1 .3 2.5 .2-2.1 .3 .2 .3 1.1 .2-1.6 .3 1 .3-2.8 .3 1.6 .2 .9 .3-1.5 .3 1.2 .3-1 .2 .8 .3 .4 .3-1.7 .3-1.4 .2-.2 .3 .8 .3-.6 .2-2.4 .3 2.3 .3-.4 .3-2.3 .2-.5 .3-1 .3-2.5 .3 .1 .2-.5 .3-1.6 .3-2.2 .3-.8 .2 .6 .3-.2 .3 0 .2-1.3 .3 2.9 .3 .5 .3 1.4 .2-.5 .3 3.2 .3 .4 .3 2 .2-1 .3 2.5 .3 .2 .3-.1 .2 1.2 .3-.6 .3 1.2 .2 .5 .3 .2 .3 .6 .3 .7 .2-1.8 .3 1.8 .3-2.8 .3 1.4 .2 3.5 .3-1.4 .3-.8 .3 2.8 .2-3.7 .3 .8 .3-1 .2 1.7 .3-1.2 .3-1.3 .3 .6 .2 .8 .3 1.5 .3-.3 .3 .4 .2-.5 .3-1 .3 2.7 .3-2.7 .2 1.2 .3-1.2 .3 .3 .2 .1 .3-.7 .3 2 .3-1 .2 1.1 .3 .4 .3-.7 .3-.5 .2 .4 .3-1.3 .3 1.1 .3-2.7 .2 1.3 .3 1.8 .3-2.6 .3 2.1 .2 .5 .3-.8 .3-1 .2 2 .3 1.2 .3-.7 .3-3.2 .2 3.6 .3-2.6 .3 2.3 .3-1.6 .2 .7 .3 .8 .3-2.6 .3 2.6 .2-1.5 .3 .8 .3-.9 .2-.2 .3-1.2 .3 1.2 .3 1.2 .2-1.9 .3 2.4 .3-.7 .3-2.3 .2 1.5 .3 .5 .3-.6 .3 .5 .2 .7 .3-1.5 .3 .9 .2-.7 .3-.9 .3 1.6 .3-1.1 .2 .3 .3 1.1 .3-3.1 .3 2.8 .2-.2 .3-.3 .3 .4 .3-.3 .2 .2 .3-2.2 .3 1.2 .2 .7 .3-.5 .3 .3 .3-1 .2 2.8 .3-1.9 .3 .7 .3 .2 .2-1.6 .3 0 .3-.7 .3 1.6 .2 1 .3-.8 .3-2.3 .2 2.6 .3 0 .3-1 .3-2.2 .2-.4 .3 1.3 .3-1.1 .3 2 .2 .9 .3 0 .3-.7 .3-.1 .2-.2 .3-1.3 .3-1.5 .2 2.6 .3-.5 .3-5.2 .3 2.9 .2-2.5 .3-3.5 .3-2 .3-11.6 .2-14.4 .3-23.7 .3-31.7 .3-42.8 .2-37.2 .3-26.7 .3-1.6 .3 18.9 .2 25.6 .3 23.6 .3 21.2 .2 16.2 .3 21.7 .3 15.8 .3 17.6 .2 11.9 .3 9.8 .3 6.6 .3 2.5 .2 5.3 .3 1.3 .3-.8 .3 1.9 .2 0 .3-.5 .3 0 .2-.4 .3 .6 .3 2.5 .3-.2 .2-.7 .3 1.2 .3-1 .3-.6 .2 1.1 .3-.7 .3 0 .3 .8 .2-1.7 .3 2.7 .3-1 .2-1.1 .3 1.5 .3-2.1 .3-.3 .2 1.2 .3 .7 .3-1 .3-.6 .2 3.5 .3-1.9 .3-1.5 .3 .8 .2 1.3 .3-1.1 .3-1.3 .2 4 .3-.9 .3-3.5 .3 2.5 .2-.2 .3-1.7 .3 .6 .3-.5 .2 1.2 .3 1.4 .3-1.9 .3-.6 .2 2 .3-1.9 .3-1 .2 .1 .3 0 .3 1 .3 .1 .2-.1 .3-.5 .3-3.4 .3 2 .2-2.7 .3 .9 .3-1.1 .3-2.1 .2-1.2 .3-1.5 .3-.8 .2-2.1 .3-.3 .3-4.1 .3-2.2 .2-2.7 .3-3.2 .3-1.1 .3-4.4 .2-.6 .3-2.8 .3-.5 .3-2.4 .2 .5 .3 3.5 .3 .3 .3 1.8 .2 .2 .3 .6 .3 3.2 .2 1.6 .3-2 .3-1.5 .3 1.8 .2-.5 .3-3.8 .3-2.1 .3-.9 .2-3.2 .3-4.4 .3-8.3 .3-5.3 .2-8 .3-9.1 .3-7.9 .2-7.6 .3-13 .3-11.8 .3-13.6 .2-17.7 .3-17.9 .3-13.2 .3-5.2 .2-1.3 .3 3.7 .3 9.8 .3 6.3 .2 8.1 .3 5.3 .3 4.1 .2 7.6 .3 8.7 .3 8 .3 7.7 .2 10 .3 7 .3 9.6 .3 9.1 .2 5.7 .3 11.8 .3 5.8 .3 7.8 .2 5 .3 8 .3 3.7 .2 4.1 .3 5.9 .3 1.2 .3 1.5 .2 6 .3-.2 .3 1 .3 2.2 .2 3 .3-.1 .3-.7 .3 1.7 .2 3.2 .3-1.4 .3 .8 .2-1.6 .3 .5 .3 2.8 .3-2.6 .2 1.1 .3 .6 .3 0 .3-.9 .2 1.3 .3-1.4 .3-.7 .3 1.8 .2-.4 .3-.6 .3 .6 .2-1.3 .3 1.9 .3 .9 .3-3.3 .2 1 .3 .4 .3-.6 .3 1.6 .2 1.3 .3-1.4 .3 1.3 .3-1.4 .2 .3 .3-1.1 .3 .7 .2-1.8 .3 1.9 .3-3.8 .3-1.6 .2-1.1 .3-4.3 .3-1.6 .3-2.9 .2-1.9 .3-1.8 .3 4.4 .3 3.5 .2 3.1 .3 2.6 .3 1.5 .3 1.7 .2 1.8 .3 .5 .3-.7 .2 1.4 .3 .7 .3 .2 .3-1.3 .2 2.6 .3-4.1 .3 2.4 .3-.5 .2-.2 .3 .1 .3-.6 .3 .9 .2-.4 .3-.2 .3 .1 .2-.1 .3 1.2 .3 .7 .3-1.5 .2 .5 .3 1.4 .3-2.8 .3 1.7 .2-1.1 .3 .9 .3 .3 .3 .9 .2-2.3 .3 1.6 .3-1.1 .2 1.5 .3-2.5 .3 2.5 .3 .6 .2 .3 .3-.8 .3-1.3 .3-.7 .2 1.7 .3-.4 .3-2.3 .3 .4 .2 1.9 .3-.7 .3-1.5 .2 .5 .3 .4 .3 1.5 .3 0 .2-.1 .3-.7 .3 .1 .3-.2 .2 2 .3-3.3 .3 2.3 .3 .2 .2-.7 .3-2.7 .3 2.3 .2 0 .3-.9 .3 .3 .3 .2 .2 1 .3-1.3 .3 1.1 .3-1.6 .2 3.3 .3-3.8 .3 1.5 .3-1.1 .2 .1 .3 1.5 .3 1 .2-2.2 .3 1.2 .3-1 .3 1.4 .2-3.6 .3 3.3 .3-1 .3 .2 .2-.2 .3-1.4 .3 2.6 .3-.5 .2-1.5 .3 .3 .3-.2 .3-2.3 .2 1.4 .3-.5 .3-2.1 .2-1.8 .3-3.3 .3 .3 .3-1 .2 2.1 .3 2.5 .3 4.8 .3-2.2 .2 1.3 .3 .3 .3 .6 .3 1.7 .2-1.6 .3 .8 .3 .7 .2-1.7 .3 3.5 .3-2.9 .3 .7 .2 1.3 .3-1.9 .3-2.7 .3 3.4 .2 .6 .3-.8 .3 1 .3-.8 .2 1.8 .3-.1 .3-1.6 .2 1.1 .3-1.7 .3 1 .3 .4 .2-2.1 .3 1.4 .3-2.5 .3 .9 .2-.2 .3 2.3 .3-1.9 .3 2.7 .2-2.7 .3 .4 .3-.8 .2 1.5 .3-.6 .3 .3 .3 .7 .2-.6 .3-.7 .3-.5 .3 1.4 .2 1.8 .3-.6 .3-1.2 .3-.8 .2 1.6 .3-.7 .3-.9 .2 .1 .3-.2 .3-.5 .3 .9 .2-.4 .3 .7 .3-.7 .3-1.2 .2 1.8 .3 1.6 .3-3.4 .3 1.6 .2-1.5 .3 .8 .3 2 .2-3.1 .3-4.6 .3-4.7 .3-6.4 .2-7 .3-9.3 .3-6.1 .3 2.4 .2 2.7 .3 10.3 .3 10.7 .3 4 .2 4.5 .3 1.3 .3 1.3 .2 .3 .3 .6 .3-.3 .3-1.4 .2 3.1 .3-.9 .3 2.3 .3-.4 .2 .1 .3 .6 .3 .2 .3-1.8 .2 1.9 .3 .7 .3-1.5 .3-2 .2 1.1 .3 .4 .3-.8 .2-.3 .3 2.6 .3-1.8 .3-.1 .2 1 .3-1.7 .3 3.1 .3-2 .2 .2 .3-1.9 .3 .8 .3 1.6 .2-.9 .3-.3 .3-.2 .2 .7 .3-2.6 .3 3.7 .3-.8 .2-.1 .3-3.2 .3 2.1 .3 1.3 .2-2.3 .3-1 .3-1.2 .3 .9 .2 1.1 .3-3.1 .3 .2 .2 2 .3-2.6 .3 .9 .3-.4 .2 .6 .3-2.3 .3 .6 .3-1.4 .2 2.3 .3-2.2 .3 2.2 .3-3.1 .2 .7 .3 1.8 .3-1.2 .2 .4 .3-1 .3 .4 .3-.2 .2 .9 .3 1.2 .3 .6 .3-.4 .2-2.6 .3 3.4 .3-.1 .3-1 .2 0 .3-2.3 .3 1.5 .2 2 .3 .8 .3-1.9 .3-1.2 .2 .6 .3 .5 .3-1.8 .3 1.1 .2 .4 .3 .6 .3-1.9 .3-.8 .2 1.2 .3-.4 .3 .2 .2-.2 .3 .8 .3-.6 .3 1.5 .2-.7 .3-.4 .3 2.9 .3-1.2 .2-.4 .3-.6 .3-1.7 .3 2.8 .2 0 .3-1.8 .3 .8 .3-1.6 .2 .3 .3-.5 .3-2 .2-.8 .3 .2 .3-2.7 .3-2.4 .2-1.8 .3 .6 .3 .8 .3-3.3 .2-.9 .3-.9 .3-2.2 .3 .8 .2-4.8 .3 1.8 .3 1.8 .2-1.1 .3 1.7 .3 1 .3-.4 .2-.7 .3 2.1 .3 3.1 .3 3.9 .2-.9 .3-1.5 .3 4 .3 1.4 .2 1.5 .3 1.7 .3-3.6 .2 8 .3-.9 .3 .4 .3 .3 .2-1.1 .3 1.4 .3 2.9 .3-1.1 .2 .3 .3-.6 .3 0 .3 .6 .2 1.3 .3 .1 .3-.1 .2-2.3 .3 1 .3 .3 .3-.9 .2 1.8 .3-1.7 .3 3.7 .3-2.3 .2-.3 .3-1 .3 .7 .3 2 .2-3.5 .3 1.3 .3 1.8 .2-4.2 .3 3 .3-1.1 .3 2.1 .2-2.2 .3-.4 .3 1.3 .3 2.2 .2-2.3 .3 .6 .3 .1 .3-1.1 .2 .6 .3 .2 .3 .7 .2-.6 .3-.2 .3-1.6 .3 4 .2-2.3 .3 0 .3 1.1 .3 .9 .2-1.6 .3 .2 .3-1.5 .3 1.3 .2 .3 .3-1.1 .3 1.3 .3-1.9 .2 3 .3-3.2 .3 2.5 .2-2 .3 1.6 .3 .9 .3-3.3 .2 1.7 .3 .1 .3-1.4 .3 .8 .2 1.9 .3-2.6 .3 .8 .3-1.1 .2 .3 .3 1.7 .3 .8 .2-2.7 .3 2.1 .3 0 .3-2.7 .2 2.5 .3-1.8 .3 0 .3 0 .2 .3 .3 .9 .3 .7 .3 .6 .2-2.7 .3 3.4 .3-2.8 .2-1.1 .3 2.7 .3-.1 .3 .7 .2-.3 .3 .3 .3-2.1 .3 .5 .2-.2 .3 .9 .3-.9 .3 2.1 .2-1 .3 .2 .3-1.2 .2 0 .3 .1 .3 .4 .3-2.5 .2 1.4 .3 1.8 .3-.5 .3 .4 .2-.8 .3-.5 .3 .8 .3-.7 .2 1.3 .3-.7 .3 .3 .2 .3 .3-1.4 .3 0 .3 .2 .2 .4 .3 1.6 .3-1.8 .3 0 .2 1.4 .3 .5 .3-1 .3 .7 .2-1.2 .3 .2 .3-.1 .2 .9 .3-.9 .3 0 .3-1.1 .2 0 .3 1 .3-.3 .3 1.4 .2-1.4 .3 .9 .3-.7 .3-1 .2-.2 .3 .9 .3 .5 .2-1.4 .3 2.4 .3-.4 .3 .2 .2-.7 .3 .6 .3-.2 .3-2.5 .2 1.2 .3 2.6 .3-2.7 .3 1.4 .2 .2 .3-.5 .3 .3 .3 2 .2-4.4 .3 .5 .3 3.2 .2-.7 .3-1.7 .3 2.4 .3-2.7 .2 0 .3 .8 .3-.5 .3 .5 .2-.8 .3-.2 .3 .6 .3 1.3 .2-1.9 .3-.1 .3 1.8 .2-1.1 .3 2.6 .3-.1 .3-2.9 .2-1.4 .3 .9 .3 1.6 .3-1.1 .2 1.9 .3-2.4 .3 .7 .3 .7 .2 1.4 .3-2.6 .3 1.5 .2-.4 .3 .2 .3-.7 .3 .1 .2 .4 .3 .1 .3-1.4 .3 1.2 .2 .2 .3 .8 .3-1.4 .3 2.2 .2-3.7 .3 .2 .3 .8 .2 .8 .3 1.4 .3-.8 .3 0 .2-.4 .3-1.1 .3 3 .3-1 .2-1.7 .3 .6 .3 .1 .3 .9 .2 0 .3 0 .3-1.2 .2 1.1 .3-.5 .3-.9 .3 .8 .2-.5 .3 .1 .3 .7 .3-1.3 .2 3.2 .3-1.7 .3-.4 .3 .7 .2-1.2 .3 1.5 .3-4.1 .2 2.9 .3-.9 .3-1.1 .3 2.9 .2-.1 .3-1.6 .3 1.9 .3 .7 .2-2.8 .3 1 .3-.2 .3-1.6 .2-.1 .3 1.7 .3-2.9 .3 1.3 .2 .6 .3-.1 .3-1.4 .2 .2 .3 .4 .3-1.8 .3-1.7 .2-4.7 .3-7.6 .3-12.8 .3-12.8 .2-14.6 .3-10.2 .3-6.5 .3 2.4 .2 9.3 .3 7.3 .3 9.7 .2 9.6 .3 1.6 .3 10.6 .3 2.5 .2 6.4 .3 5.4 .3 3.2 .3 2.3 .2 2.1 .3 1.5 .3 1.1 .3-2.2 .2-.5 .3-.7 .3 2 .2-.7 .3 .8 .3-2 .3 3.5 .2 .1 .3-.7 .3 .3 .3-2.2 .2 2 .3-.2 .3-1.1 .3 2.3 .2-2.3 .3 .6 .3 1.4 .2-1.3 .3 1.2 .3-1 .3-1 .2 .6 .3-.6 .3 .5 .3 .5 .2 .7 .3 .4 .3-2.4 .3 1.2 .2 .1 .3 1.2 .3-.4 .2-.5 .3-1.1 .3 .9 .3-1.1 .2-.4 .3 2.2 .3-1.3 .3-.3 .2 1.8 .3-.8 .3 2.9 .3-1.1 .2-.8 .3-1.2 .3-.4 .2 3 .3-2.6 .3-2 .3 2.1 .2 .2 .3 .3 .3-2.5 .3 4.3 .2-2 .3 .4 .3 .2 .3-.4 .2 .7 .3-.9 .3 1.5 .2-2.3 .3-.4 .3 .1 .3 1.6 .2 .1 .3-1.7 .3-.1 .3 .7 .2 .4 .3-.5 .3 1.9 .3-2.2 .2 .5 .3-.6 .3 .7 .3 .3 .2-.5 .3 .1 .3-1.3 .2 2.1 .3-1.2 .3 .1 .3-.1 .2 1.3 .3 .2 .3-.6 .3-1.3 .2 1.4 .3-1.3 .3 .4 .3-1 .2 .6 .3 1.8 .3-1.3 .2-.5 .3 1.8 .3-1.4 .3 .6 .2-2 .3-.2 .3-.2 .3 1.9 .2-2 .3 2.5 .3 .8 .3-1.3 .2-.4 .3 .9 .3-1.4 .2 2.3 .3-1.3 .3 .5 .3-1 .2 1.8 .3-.4 .3-1.4 .3 1.2 .2-.7 .3-.5 .3-.9 .3 1 .2-1.5 .3 3 .3-2.2 .2 2.9 .3-4 .3-.3 .3 .1 .2 3.2 .3-2.6 .3 2.4 .3-1.3 .2-.5 .3 .7 .3 .6 .3 .5 .2 .4 .3-2.3 .3 1.9 .2-.8 .3 .2 .3 .9 .3-1.4 .2 .6 .3 .7 .3-3.2 .3 .9 .2-.7 .3-.9 .3 2.1 .3 1.5 .2-.9 .3-1 .3 1.8 .2-.1 .3 .7 .3 0 .3-1.9 .2-.7 .3 .2 .3 1.1 .3-3.6 .2 1.9 .3 1.3 .3-1.6 .3-.2 .2 .3 .3-.6 .3-1.1 .3 1.1 .2 .4 .3 1 .3 .2 .2-2 .3-1 .3-2 .3 3.5 .2-1.9 .3 .3 .3-.1 .3-.8 .2-.9 .3-.3 .3 .6 .3-3.2 .2 1.6 .3-.3 .3 1.7 .2-3.6 .3-.7 .3 .3 .3 .4 .2-2.7 .3 2 .3-.9 .3-3.1 .2-.6 .3 3.1 .3-1.9 .3 1.4 .2-3.2 .3-3 .3 0 .2-3.5 .3-3.1 .3-9 .3-13.7 .2-15.5 .3-17.2 .3-18.4 .3-21.8 .2-12.4 .3-9.6 .3 9.1 .3 11.9 .2 15.5 .3 13 .3 8.6 .2 12.4 .3 8.3 .3 8.4 .3 5.6 .2 7.3 .3 5.1 .3 7.7 .3 5.2 .2 5 .3 3.3 .3 3.8 .3 2.8 .2 1.7 .3-2.7 .3 4.4 .2 2 .3 .4 .3-1.2 .3 1.7 .2-.9 .3 1.4 .3-1.2 .3 1.2 .2-1.2 .3 1.3 .3 .3 .3 .2 .2 .2 .3 1.5 .3-2.2 .2 1.2 .3-1 .3 1.3 .3-.3 .2-1.4 .3 1.7 .3-.4 .3-.5 .2 0 .3 1.6 .3-1.3 .3-.2 .2 .9 .3-.4 .3 .3 .3 .2 .2-2.4 .3 1.7 .3 1 .2-.7 .3 .4 .3-.2 .3 .9 .2-1.7 .3-.2 .3-3.4 .3 4.3 .2 .5 .3-1.9 .3-.2 .3 1.3 .2-2.7 .3 .6 .3-1 .2 3.4 .3-1.6 .3-2 .3 1.8 .2-.9 .3 .1 .3 1.7 .3-3.3 .2 2.9 .3-4.3 .3 1 .3 .1 .2-1.1 .3-.1 .3 1.7 .2-2 .3 .7 .3-.9 .3 .4 .2-.6 .3-1.2 .3 1.1 .3 .3 .2-.7 .3 1.4 .3-.5 .3-3.4 .2 .2 .3-1.7 .3 1.7 .2 1.7 .3-1.7 .3-.4 .3 1 .2 2.3 .3-1.8 .3 .8 .3 1.4 .2-1.9 .3 .1 .3 .1 .3 2.6 .2-.1 .3-.1 .3-.9 .2 1.5 .3-.2 .3-1 .3 4.3 .2-2.5 .3 .2 .3 .8 .3-.2 .2 .9 .3-1.8 .3 1.4 .3-2 .2 1.7 .3 2.2 .3-1.2 .2 1.4 .3-2.9 .3-.3 .3 1.3 .2-2.1 .3 1.9 .3 .4 .3-1.3 .2 .4 .3-1.5 .3 .8 .3-.7 .2-.2 .3-2.7 .3-1.3 .2-.6 .3 .5 .3-1 .3 .1 .2-2.7 .3-1.6 .3 1.4 .3-5.2 .2-.6 .3-.6 .3-1.1 .3-1.1 .2-1.7 .3-1.9 .3-1.7 .3 2 .2-2.9 .3 .8 .3-3.5 .2-.1 .3 .2 .3 2.4 .3-1.8 .2-1.3 .3-4.7 .3 2.5 .3-3.3 .2-2.3 .3-3.1 .3-7.1 .3-3.7 .2-5.2 .3-3.5 .3 1.8 .2 4.1 .3 3.2 .3 6.5 .3 7 .2 2.5 .3 4.2 .3 2.5 .3 1.5 .2 2 .3 1.7 .3 1.2 .3 2.8 .2 .7 .3 0 .3 2.1 .2 0 .3 3.2 .3 .4 .3 2.7 .2-1.4 .3 4.3 .3-.9 .3-.9 .2 4.7 .3-1.4 .3 0 .3 1.4 .2-2.1 .3 2.5 .3 0 .2 .5 .3 2.5 .3 .4 .3 1.3 .2-3 .3 .3 .3-.3 .3 1 .2 .5 .3-1.3 .3 3.3 .3-2.4 .2 .6 .3-1.9 .3 2.1 .2 0 .3-1.3 .3 2.5 .3-1.7 .2-1.5 .3 .2 .3 1.6 .3 .2 .2-.3 .3 1.3 .3-.2 .3 .7 .2-2.6 .3 .5 .3 2.8 .2-2.1 .3-1.1 .3 .8 .3 1.6 .2-2.3 .3 1.6 .3-2.5 .3 1.7 .2-.8 .3 .5 .3-.3 .3 .8 .2-1.4 .3 1.3 .3-.4 .3 .9 .2 .8 .3 1.3 .3-3.5 .2 .7 .3-1.2 .3 1.3 .3-.2 .2-.9 .3 1.8 .3 .1 .3-2 .2 1.9 .3 1.4 .3-2.1 .3-1.3 .2 .1 .3 1.9 .3 .6 .2-.8 .3 0 .3 0 .3 .1 .2-1.4 .3 2.5 .3 1.7 .3-2.3 .2-1.3 .3 1 .3-1.4 .3 .7 .2 1.3 .3-1 .3 .4 .2-2.8 .3 .7 .3 2.5 .3-.9 .2-3.2 .3 4.8 .3-1.7 .3-.7 .2 2.3 .3-.4 .3-2.2 .3-.5 .2 2.9 .3-.7 .3 .2 .2-1 .3-.8 .3-.7 .3 .7 .2 1.9 .3 .3 .3-1.6 .3-1 .2-.2 .3 3.9 .3-2.4 .3-1.8 .2 2 .3 1 .3-2.1 .2-.3 .3 1.1 .3 1.4 .3-1.2 .2-1.8 .3 1.6 .3-.6 .3 .5 .2 .2 .3 .9 .3 .2 .3 1.6 .2-2.7 .3 .2 .3 .1 .2-.6 .3 2.5 .3-.9 .3-2.5 .2 1.8 .3-1 .3 1.8 .3-1.2 .2-2 .3 2.4 .3 2.2 .3-3.2 .2-1.9 .3 4 .3-2.7 .2 2 .3-1.3 .3-.9 .3 .7 .2-1 .3 1 .3 .7 .3-1.6 .2 2.5 .3 .6 .3-3.4 .3 2.6 .2-1.2 .3-1.3 .3 1.2 .3 .3 .2-1.2 .3 .6 .3 .2 .2 1.4 .3-1.5 .3 .6 .3 .2 .2 .1 .3-1.3 .3-.8 .3 1.5 .2-.8 .3 1 .3-1.8 .3 1.3 .2-.2 .3 1.2 .3-.7 .2-.1 .3 .8 .3-1.3 .3-.1 .2 .4 .3 1 .3-.1 .3-.6 .2-.7 .3 1.5 .3-2.9 .3-.2 .2 1.1 .3 1.9 .3 0 .2-1.8 .3-2.5 .3 1.6 .3 .7 .2-2.6 .3 .2 .3 2 .3-3.4 .2-.1 .3-5.1 .3-3.8 .3-5.2 .2-6.6 .3-10.7 .3-11.1 .2-12.1 .3-7.7 .3-10.5 .3-.2 .2-.3 .3 9.3 .3 3.2 .3 7.8 .2 3.8 .3 5.5 .3 3.5 .3-1.2 .2 4.5 .3 1.2 .3 9.3 .2 2.7 .3 5.6 .3 5.2 .3 5 .2 4.7 .3 1.2 .3-.8 .3-.6 .2-1.9 .3 1.5 .3-3.8 .3-3.7 .2 0 .3 1 .3-3.2 .2 2 .3 .5 .3 5.3 .3 1.1 .2 3.1 .3 .5 .3 1.6 .3 2 .2-1.3 .3 4.9 .3-.1 .3-1.3 .2-.9 .3 1.4 .3 .4 .3-1.9 .2 0 .3 .8 .3 0 .2-.7 .3 1.2 .3 .7 .3 .3 .2-.7 .3 .6 .3-1.8 .3 0 .2 .7 .3-1.2 .3-1 .3 3.6 .2-2.8 .3-1.5 .3 2.2 .2 .3 .3-.5 .3-.4 .3 .2 .2 .2 .3 .3 .3-.9 .3-1 .2-.5 .3-2.6 .3-3.5 .3-2.7 .2-7.7 .3-6 .3-8.9 .2-6.3 .3-2.3 .3-5.1 .3 2.5 .2 5.1 .3 2.8 .3 6.4 .3 1.5 .2 3.1 .3-.7 .3 5.4 .3 2.4 .2 4.1 .3 1.2 .3 3 .2 4.6 .3 3.6 .3-1.4 .3 1.7 .2 3.2 .3-1.5 .3 .5 .3 1.1 .2-.4 .3 .2 .3-2 .3 2.1 .2-.2 .3-1.3 .3-1.6 .2 5.1 .3-1.2 .3-2.8 .3 1.6 .2 .4 .3-.9 .3 .4 .3 1.7 .2-1.2 .3-1.1 .3 0 .3 1 .2 1.3 .3-.7 .3-.1 .2-1.2 .3 .7 .3 1.4 .3-.8 .2 1.1 .3-.6 .3-.8 .3 .1 .2 2.3 .3-3.3 .3 2.7 .3-1.9 .2 .5 .3-.1 .3 .6 .3-.7 .2 2.4 .3-2.4 .3-.1 .2-.1 .3-.4 .3 .5 .3 .8 .2-.2 .3-2.1 .3 1.8 .3 .7 .2-2.1 .3 1 .3-.3 .3-1.3 .2 0 .3 3.2 .3-.5 .2 .7 .3-2.9 .3 1.4 .3-.2 .2-.9 .3 0 .3 2.4 .3-2.6 .2 .8 .3 0 .3-.3 .3 1.9 .2-1.1 .3-2.6 .3 3.8 .2-1.7 .3-1.5 .3 .9 .3 4.2 .2-3.3 .3-1.9 .3 5.8 .3-4.6 .2-.8 .3 .4 .3 .9 .3 1.5 .2-.9 .3-1.4 .3-.6 .2-.5 .3 1.9 .3 1.6 .3-.8 .2 .8 .3-1.4 .3-1.6 .3 1.1 .2 .3 .3-.5 .3 1.1 .3-.2 .2-.1 .3-1 .3 1 .2 1.8 .3-2 .3-.4 .3 1.8 .2-2.2 .3 1.2 .3-.6 .3 .9 .2-.8 .3-.3 .3 .5 .3-1.7 .2 3.1 .3-1.4 .3 1.6 .2-2 .3 .3 .3 1.3 .3-.2 .2-.3 .3 1.5 .3-2.1 .3 .7 .2-.8 .3-.9 .3 2.2 .3-1.3 .2 .9 .3-.7 .3 .6 .2-.6 .3 .4 .3-.4 .3 0 .2 .8 .3-1.2 .3 .8 .3-1.1 .2 .4 .3-1.4 .3 1 .3-.1 .2 .8 .3 1.2 .3 0 .3-.5 .2-.3 .3 2 .3-2.3 .2-.5 .3 .9 .3-1 .3 1.3 .2-1.7 .3-.8 .3 2.8 .3-2.5 .2 .1 .3 2.4 .3-1.1 .3 2.1 .2-1.9 .3-.6 .3-.1 .2-.2 .3 2.4 .3-1.4 .3-.2 .2 .2 .3-1.2 .3 .6 .3 1.4 .2 .4 .3-1 .3 .5 .3 .7 .2-2.2 .3-.3 .3 .1 .2 .1 .3 3.1 .3-2.4 .3-1.1 .2 .6 .3 2.3 .3-2.6 .3 1 .2-.3 .3-.4 .3 1.1 .3 .2 .2-.3 .3-.4 .3-1.4 .2 .7 .3 .7 .3-.7 .3 0 .2 .2 .3-.7 .3 1.6 .3 1.1 .2-.2 .3-1.1 .3 .2 .3-1 .2-1.9 .3 2.8 .3 .3 .2 .9 .3-1.9 .3 .5 .3 .2 .2-.5 .3-.5 .3 1.1 .3-1.8 .2 .8 .3 0 .3-.6 .3-.7 .2 .7 .3-.4 .3 2.1 .2 .2 .3-.4 .3-.4 .3-1.8 .2 .1 .3 1.6 .3-.5 .3-2.1 .2 3 .3-2.2 .3 0 .3-.6 .2 5.4 .3-4 .3 1.7 .3-2.3 .2 4.2 .3-2.1 .3 .4 .2-.4 .3-.6 .3-.6 .3-3.3 .2 4.1 .3 1.4 .3-2.6 .3-1.4 .2 .4 .3 .2 .3-1.1 .3-2.1 .2-.3 .3-.5 .3-4.3 .2 .8 .3-1.7 .3 1 .3 1.9 .2 1.8 .3-1.8 .3 3.9 .3 .2 .2 1.9 .3 2.3 .3-3.4 .3 .1 .2 3.3 .3-1.1 .3 .4 .2 .9 .3-.8 .3-.4 .3 3.3 .2-3.2 .3 0" fill="none" stroke="#1d1a1b" stroke-width="1.65" stroke-linejoin="round"/>
<path d="M158.6 1206.1l.3-.7 .2 0 .3-.1 .3-.8 .3 .9 .2-.7 .3 .8 .3-.4 .3 .7 .2-.5 .3 0 .3-.4 .3 .7 .2-.3 .3 .3 .3 .1 .2 0 .3-.5 .3-.7 .3 .3 .2 .9 .3 .1 .3 .1 .3-.8 .2-.2 .3 .8 .3 0 .3-.4 .2 0 .3-.6 .3 .5 .2 .7 .3-1 .3 .2 .3 .1 .2-.1 .3-.7 .3 .6 .3 0 .2 .1 .3 0 .3 .2 .3-.5 .2 1.2 .3-.9 .3 .8 .2 0 .3-.6 .3-.6 .3-.5 .2 .3 .3 .6 .3 .2 .3-.4 .2 .1 .3 1.4 .3-1.1 .3-.6 .2 .8 .3-.7 .3-.7 .3 1.2 .2-.5 .3 .4 .3 .8 .2-.8 .3-.4 .3 1.1 .3-1.7 .2 .4 .3 1.2 .3 0 .3-.8 .2-.2 .3 .5 .3 0 .3-.1 .2-.3 .3-.4 .3 .3 .2 .1 .3 0 .3-.1 .3 .2 .2-.7 .3 1.2 .3 .2 .3-.9 .2-.4 .3 .8 .3 .1 .3-.3 .2 .5 .3-.7 .3-.2 .2 1.2 .3-.9 .3 0 .3-.9 .2 .9 .3-.1 .3 .3 .3 .3 .2-.3 .3-.6 .3 1 .3-.3 .2 .1 .3-.3 .3 .1 .2-.7 .3-.1 .3 .4 .3 0 .2 .4 .3-1.6 .3 1.2 .3-.1 .2 .9 .3-.8 .3 0 .3 .3 .2 .2 .3-1.1 .3 .3 .2 .8 .3-.1 .3-.2 .3 .7 .2-1.4 .3 .8 .3-.3 .3 .3 .2-.4 .3 .4 .3 1.1 .3-.9 .2-.2 .3 .7 .3-.5 .2 .7 .3-1.4 .3-.1 .3-.4 .2 .5 .3-.4 .3 1.5 .3-.6 .2 .2 .3-.2 .3-.1 .3-.1 .2-.6 .3 1.4 .3-.9 .3 1 .2-.5 .3-.9 .3 .4 .2 0 .3-.1 .3 0 .3 .2 .2-.2 .3-.1 .3 .4 .3-.1 .2-.2 .3 .4 .3-.4 .3 .4 .2-.2 .3 .5 .3-1.3 .2 1.6 .3-1 .3 .7 .3-.8 .2 .2 .3 .3 .3-.4 .3-.1 .2 .1 .3 .8 .3-1.5 .3 .8 .2 .7 .3-.8 .3 .8 .2-1.7 .3 .4 .3 .4 .3-.2 .2 0 .3 .7 .3-.8 .3 .6 .2 0 .3-.2 .3 1 .3-1.1 .2 1.1 .3-1.2 .3 .5 .2-.1 .3-.5 .3 .7 .3 .2 .2-.2 .3-.3 .3 .6 .3-.3 .2-.2 .3-1.5 .3 1.2 .3 .5 .2-.9 .3-.9 .3 1 .2 .3 .3-.7 .3 .6 .3 .3 .2-.6 .3 .2 .3 .9 .3-.7 .2-.5 .3 .8 .3 0 .3-.2 .2-.1 .3-.3 .3 1.6 .2-1.7 .3 .5 .3 .2 .3 .3 .2-.7 .3 .3 .3-.4 .3 .5 .2-1 .3 1.4 .3-.4 .3 .1 .2-.4 .3-.9 .3 .5 .3 .3 .2 .8 .3-.7 .3 .5 .2-.4 .3-.4 .3 .2 .3 .4 .2 .1 .3-.7 .3 .4 .3 0 .2 .3 .3 .2 .3-1.2 .3 .3 .2-.5 .3 1.7 .3-.8 .2-.8 .3 1.7 .3-1.1 .3 .2 .2 0 .3 .3 .3-1.3 .3 .8 .2 .5 .3-.2 .3-.3 .3-.2 .2-.4 .3-.7 .3 .6 .2 1 .3-.1 .3-.4 .3 .4 .2 .8 .3-.9 .3-.2 .3 1.6 .2-1.3 .3-.4 .3 .9 .3-.9 .2 .4 .3 .1 .3 .5 .2-1 .3 .7 .3-1 .3 .6 .2 .1 .3 .1 .3 .8 .3-1 .2-.1 .3 0 .3 0 .3 .3 .2-.1 .3 .4 .3-.7 .2 .5 .3-.1 .3-.1 .3 .1 .2-.1 .3-.2 .3 0 .3-.7 .2 .2 .3 .4 .3 .3 .3 0 .2-.3 .3-.3 .3 .5 .2-.2 .3-.4 .3 .8 .3 .1 .2-.5 .3-.6 .3 .6 .3 .1 .2-.7 .3 .8 .3-.2 .3 .4 .2-.6 .3 .2 .3 0 .2 .5 .3-.9 .3 .4 .3 .8 .2-.9 .3-.4 .3 1.1 .3-.2 .2-1.2 .3 .8 .3-.7 .3 .6 .2 .4 .3 0 .3-.9 .3 .1 .2 1.1 .3-.5 .3-.3 .2 .2 .3-.6 .3-.3 .3 .1 .2 .9 .3-.6 .3 .7 .3 .1 .2-.3 .3-.5 .3 .1 .3-.1 .2 .4 .3 .5 .3-.4 .2 .8 .3-.7 .3-.5 .3-.4 .2 .3 .3-.3 .3 .9 .3-.3 .2 .9 .3-.5 .3 0 .3-.8 .2 .1 .3 .6 .3-.2 .2-.5 .3 .1 .3 .4 .3 .2 .2-.2 .3-.4 .3 0 .3 .4 .2-.4 .3-.9 .3 .1 .3 .3 .2 0 .3-.9 .3-1.5 .2-.9 .3 .9 .3-1.5 .3-.6 .2 .4 .3 .7 .3 .4 .3 .8 .2 1.4 .3-.4 .3 .6 .3 .7 .2 .1 .3 .1 .3 .3 .2-.4 .3 .4 .3-.2 .3 .9 .2-.9 .3 .3 .3 .4 .3-.7 .2 .4 .3-.5 .3 .1 .3 0 .2 0 .3 .2 .3-1 .2 1.1 .3-.1 .3-.3 .3-.1 .2 .4 .3-.1 .3 1.2 .3-.5 .2-.5 .3-.3 .3 .4 .3-.8 .2 .1 .3 .8 .3-1.2 .3 .7 .2-.2 .3 .4 .3 .2 .2-.4 .3 .6 .3-.4 .3 .5 .2-.4 .3 .7 .3 .1 .3-.8 .2-1.2 .3 .8 .3 .2 .3-.6 .2 .4 .3 .8 .3-.8 .2 .2 .3 .7 .3-1.2 .3 .1 .2 .5 .3-.6 .3 .6 .3 .3 .2-.1 .3-.4 .3-.1 .3 .4 .2-.2 .3 .1 .3 .7 .2-1.5 .3 1.2 .3-.7 .3 .6 .2-.4 .3 0 .3 0 .3 .6 .2-.3 .3 .3 .3-1.1 .3 .3 .2-.1 .3 .2 .3 .6 .2 0 .3-.7 .3-.7 .3 .7 .2-.4 .3 .3 .3 .5 .3 0 .2 .7 .3-1.4 .3-.2 .3-.2 .2 1.5 .3-1.3 .3 .7 .2 .6 .3-1.1 .3 .7 .3-.8 .2 .9 .3-1.1 .3 .4 .3 0 .2 .2 .3 .6 .3 0 .3 .1 .2 0 .3-1.3 .3 .8 .2 .7 .3-.1 .3-.2 .3-.6 .2 .6 .3-.5 .3-.3 .3 .8 .2-.5 .3 0 .3 .3 .3 .1 .2-.6 .3-.4 .3 .4 .2-.1 .3 .3 .3 .3 .3-.4 .2 0 .3-.5 .3 .8 .3-.3 .2 .4 .3 .2 .3-.3 .3-.3 .2 .4 .3 .5 .3-1.4 .3 .8 .2 0 .3 0 .3-.2 .2-.4 .3 .1 .3 .7 .3-.9 .2 .2 .3-.2 .3 .8 .3 .2 .2-1.1 .3 .2 .3-1 .3 1.8 .2 .1 .3-.3 .3-.8 .2 .8 .3 .7 .3-1.5 .3 .2 .2 .9 .3-.8 .3 .6 .3-.7 .2 .2 .3-.7 .3 .5 .3 .4 .2 0 .3 .5 .3-.2 .2-.5 .3 .7 .3 0 .3-.6 .2 .2 .3 .2 .3-.3 .3-.3 .2 .4 .3 0 .3-.7 .3 .5 .2 .3 .3-.4 .3-.6 .2 1.7 .3-.2 .3 0 .3-.4 .2-.5 .3-1.2 .3 1.8 .3 .3 .2-1.4 .3 .7 .3-.2 .3 .8 .2-1.4 .3 1.3 .3-.5 .2-.9 .3 0 .3 .9 .3 .4 .2-1 .3 .2 .3 0 .3 .5 .2-.4 .3-.3 .3-.1 .3 0 .2 .6 .3 .2 .3-.6 .2 .2 .3-.8 .3 1 .3-.3 .2 .6 .3-1.4 .3 1.5 .3-.7 .2 .1 .3 .1 .3-.5 .3 .6 .2 0 .3-.4 .3 .6 .3-.3 .2-.5 .3 .2 .3 0 .2 .4 .3 .9 .3-1.2 .3 .6 .2-1.4 .3 .2 .3 .1 .3 .4 .2 0 .3 .6 .3-.6 .3 0 .2 .5 .3-.9 .3 .4 .2 .5 .3-.6 .3 1.1 .3-.6 .2-.3 .3 .1 .3 .2 .3-1.5 .2 1.4 .3-.7 .3 1.2 .3-1.5 .2 .7 .3 .6 .3 .5 .2-1 .3 0 .3 0 .3-.6 .2-.1 .3-.3 .3 .2 .3-.1 .2-1.3 .3-.4 .3-1.2 .3-2.1 .2 .1 .3-1.6 .3 .7 .2 .5 .3 .7 .3 1.2 .3 .7 .2 .6 .3 1.8 .3-.2 .3 1.3 .2 0 .3-1.2 .3 .1 .3 1 .2-.3 .3-.2 .3-.1 .2 .3 .3 0 .3-.4 .3 .4 .2-.2 .3 .4 .3-.4 .3 .9 .2-.4 .3-.5 .3-.1 .3 .9 .2 .2 .3-.3 .3-.9 .2 .5 .3 .2 .3-.4 .3 .5 .2 .1 .3-.1 .3 .4 .3-.6 .2-.1 .3-.4 .3 .9 .3-1.2 .2 1.7 .3-.3 .3-.2 .3-.7 .2 .3 .3-.5 .3 .2 .2 .4 .3-.4 .3-.1 .3 .4 .2-.3 .3 .2 .3 .2 .3-.4 .2 .4 .3 .5 .3 .2 .3-.7 .2 .3 .3-.5 .3 .4 .2-1.1 .3 .9 .3 .9 .3-1.3 .2 .6 .3-.5 .3 .9 .3-1 .2 1.2 .3-.7 .3-.8 .3 .7 .2-.5 .3 .1 .3 .1 .2 .9 .3-.5 .3 .6 .3-.7 .2 .1 .3-1.6 .3 1 .3 .3 .2-.3 .3 .7 .3-1.1 .3 .7 .2-.1 .3-.4 .3 .3 .2 0 .3 .6 .3-.1 .3 .2 .2-.2 .3-.9 .3 .3 .3-.5 .2 1 .3 .5 .3-.7 .3 .1 .2 .1 .3-.5 .3 .7 .2-.7 .3 .4 .3-.8 .3 1.4 .2-.4 .3-.4 .3 .1 .3 .5 .2-1.1 .3 .8 .3 .3 .3-.5 .2 .4 .3-.3 .3-.2 .2 .9 .3-.7 .3 .4 .3-.4 .2-.2 .3 .4 .3-.7 .3 .1 .2 .3 .3 .3 .3 0 .3 .5 .2-1.4 .3 .4 .3 .9 .2-1 .3 .9 .3-.5 .3-.4 .2 .5 .3-.8 .3 1.8 .3-.9 .2-.4 .3-.4 .3 .5 .3 .4 .2-.6 .3 .9 .3-.9 .3 0 .2-.4 .3-.2 .3 1.5 .2-.9 .3-.3 .3 1.2 .3-1.4 .2 .9 .3 .2 .3 .2 .3-.2 .2-.5 .3 .9 .3-1.2 .3-.2 .2-.4 .3 1.3 .3-.1 .2 .3 .3-.9 .3-.5 .3 .5 .2 .9 .3 .1 .3-1.8 .3 1.7 .2-.1 .3-.4 .3-.2 .3-.1 .2-.1 .3 .1 .3-.2 .2 .9 .3-.3 .3-.3 .3 .3 .2 0 .3 .2 .3-.7 .3 .4 .2-.1 .3-.4 .3 .7 .3-.9 .2 .9 .3-1.1 .3 1 .2 .6 .3-.4 .3-.4 .3-.1 .2 .4 .3-1.2 .3 .6 .3 0 .2-.1 .3 .1 .3 .2 .3 .2 .2-.6 .3 .7 .3-.4 .2 .5 .3-.3 .3-.5 .3-.1 .2 1.8 .3-1.3 .3-1 .3 0 .2 1.1 .3-.6 .3 .5 .3-.6 .2 .6 .3 0 .3-.7 .2 .4 .3 .1 .3 .6 .3-1.4 .2 .5 .3-.1 .3 .4 .3 .7 .2-.6 .3-1.4 .3 1.4 .3 .1 .2-.7 .3-.1 .3 .9 .3-.7 .2 .1 .3 .2 .3-.6 .2 1.1 .3-.6 .3 .3 .3-.5 .2 .8 .3-.2 .3 0 .3 0 .2-.9 .3 .3 .3-.1 .3 .9 .2-.5 .3-.2 .3 0 .2 .4 .3-.4 .3 .1 .3 .1 .2-.9 .3 .3 .3 .4 .3-.7 .2 .9 .3 .5 .3-1.2 .3 .1 .2-.3 .3 .2 .3 0 .2-.3 .3-.3 .3-.8 .3 .1 .2-.6 .3-.5 .3-.8 .3-1.7 .2-.8 .3-.8 .3-.5 .3-1.9 .2 .3 .3-1.4 .3-.4 .2 .5 .3-.7 .3 .5 .3 1.1 .2 .8 .3 .8 .3 1.2 .3 .3 .2 2.8 .3-.6 .3 .5 .3 1 .2 .7 .3 0 .3 .4 .2-.2 .3 1.1 .3 .7 .3 0 .2 0 .3-.5 .3 .4 .3 .5 .2 .3 .3-1 .3 .5 .3 .6 .2-.7 .3-.3 .3 .2 .2-.1 .3-.6 .3 .7 .3-.4 .2 .1 .3-.4 .3 .2 .3 .2 .2 .2 .3-.3 .3 1.2 .3-.3 .2 .7 .3-1 .3 .6 .2-.5 .3-.5 .3 0 .3 .5 .2-.6 .3 .5 .3-.7 .3 1.2 .2-1.2 .3 .9 .3 .2 .3-.4 .2 .3 .3 .8 .3-1.5 .3-.3 .2 1.2 .3-.2 .3-.2 .2 .4 .3-.5 .3 .5 .3-.6 .2-.4 .3-.1 .3 .9 .3-.2 .2 .3 .3-.8 .3 .8 .3-1.1 .2 1 .3 .1 .3-.7 .2 .8 .3-.3 .3-.1 .3-.4 .2-.2 .3 1.5 .3-1.1 .3-.5 .2 .7 .3-.7 .3-.5 .3 .7 .2 .4 .3 0 .3 .1 .2-.1 .3 .4 .3-.2 .3-.9 .2 1 .3-.6 .3-.6 .3 .6 .2-.1 .3 1 .3-.6 .3-.5 .2 .7 .3-.6 .3 0 .2 .4 .3-.2 .3 .4 .3-.6 .2 .4 .3 .3 .3-.5 .3 .3 .2 .7 .3-1 .3-.4 .3 0 .2 .9 .3-.4 .3-.1 .2-.6 .3 1 .3-.7 .3 .7 .2-.8 .3-.5 .3 1 .3-.8 .2-.2 .3 0 .3-.5 .3 0 .2-.4 .3 1.1 .3-.9 .2 .4 .3-.2 .3-.3 .3-1.5 .2-.5 .3-4.6 .3-3.7 .3-6.3 .2-9.8 .3-9.2 .3-11.4 .3-9.2 .2-2.4 .3 5 .3 8.7 .3 11.8 .2 9.2 .3 7.7 .3 7.7 .2 3.6 .3 2.3 .3 1 .3 1.4 .2-.9 .3 1.1 .3 .4 .3-.4 .2 .8 .3 .2 .3 0 .3-.1 .2-.1 .3 .4 .3 0 .2 .2 .3-.6 .3 .7 .3-.7 .2 .5 .3-.2 .3 0 .3-.2 .2 0 .3-.7 .3 .2 .3 .2 .2 .5 .3-1 .3 0 .2 0 .3 1.8 .3-1.2 .3 .3 .2 .2 .3 .1 .3-.5 .3 .5 .2-.5 .3-.1 .3-.2 .3 .2 .2 0 .3-.4 .3 .5 .2-.3 .3 .5 .3-.4 .3-.7 .2 .8 .3-.5 .3 .4 .3-.2 .2-.6 .3 0 .3 .5 .3 .1 .2-1.5 .3 1.2 .3-.2 .2-.8 .3 .4 .3 .7 .3-.5 .2 .1 .3 .1 .3-1 .3 .1 .2-.3 .3-.8 .3 1.2 .3-1.7 .2 .1 .3-.1 .3-.7 .2 .4 .3-2.5 .3-.8 .3-1.1 .2-2.4 .3-.6 .3-2.6 .3-2.3 .2-2.8 .3-1.8 .3-2.5 .3-3.8 .2-3 .3-2.4 .3-1.9 .3-2.7 .2-3.6 .3-1.1 .3-3.2 .2-1 .3-3.1 .3-4 .3-5.7 .2-4.6 .3-3.8 .3-6.1 .3-8.6 .2-8.2 .3-9.5 .3-9.1 .3-9 .2-11.1 .3-10.8 .3-13.8 .2-14 .3-18.1 .3-15.6 .3-17 .2-8.4 .3 2 .3 10.1 .3 15.7 .2 14.1 .3 16.5 .3 11.7 .3 10.8 .2 10.2 .3 10.1 .3 8.8 .2 10.8 .3 11.2 .3 8.9 .3 9.4 .2 7.5 .3 8.4 .3 7.4 .3 6.6 .2 6.1 .3 6 .3 3.5 .3 5.8 .2 2.6 .3 3.9 .3 1.4 .2 3.5 .3 2.1 .3 1.6 .3 1.3 .2 2 .3-.3 .3 0 .3 1.6 .2 0 .3 1.4 .3 .1 .3 .2 .2-.3 .3 .8 .3 .5 .2-.9 .3 1.1 .3 .6 .3-1.2 .2 .8 .3 .6 .3-.1 .3-.4 .2 .5 .3 .2 .3 0 .3 0 .2-.2 .3 .4 .3 0 .2-.2 .3 .2 .3-.1 .3 .2 .2 .7 .3-.2 .3-1.1 .3-.1 .2 1.2 .3 .3 .3-.8 .3 0 .2-.1 .3-.1 .3 .7 .2-.8 .3 .5 .3-.8 .3-1 .2-.4 .3-1.7 .3-.9 .3-2 .2-1.2 .3 1.8 .3 0 .3 1.8 .2 2.1 .3 .9 .3 .6 .3 1.1 .2 .8 .3 0 .3-.5 .2 .1 .3-.1 .3-.5 .3 .1 .2 .1 .3 .9 .3-.7 .3 1.8 .2-1.4 .3 .6 .3-.3 .3 .3 .2-.8 .3 .6 .3-.1 .2 .2 .3 .3 .3-.1 .3-.4 .2 .5 .3 0 .3-.2 .3-.3 .2 .4 .3-.1 .3-.1 .3 0 .2 .3 .3 0 .3-.9 .2 0 .3 .5 .3 .1 .3-.5 .2 .5 .3 .4 .3-1 .3 .8 .2-1.3 .3 .9 .3 .8 .3-1.1 .2-.4 .3 .8 .3-1 .2 1.6 .3-.8 .3 .4 .3 .3 .2-.5 .3 .4 .3-.2 .3 .1 .2 0 .3-.7 .3 1.1 .3-.5 .2-.1 .3 .5 .3-.2 .2 .2 .3-.1 .3-.2 .3-.1 .2-.3 .3 .1 .3 .6 .3-.5 .2 .4 .3 0 .3 .5 .3 .1 .2-.7 .3-.4 .3-.2 .2-.4 .3 .6 .3-.3 .3 1.1 .2-.7 .3-.4 .3 .4 .3 .1 .2-.2 .3 0 .3 .1 .3 .2 .2 .4 .3-.7 .3-.4 .3 .8 .2 0 .3-.9 .3 .9 .2 .1 .3-.1 .3-.2 .3 .2 .2-.7 .3 .5 .3 .5 .3-1.1 .2 1.2 .3-1 .3 .3 .3 .4 .2-.6 .3 .1 .3-.7 .2 1.4 .3-.3 .3-.2 .3-.3 .2 .3 .3 1 .3 .3 .3-1.9 .2 .3 .3 .5 .3 .6 .3-.1 .2-1.2 .3 .1 .3 .1 .2 .4 .3-.4 .3 .4 .3 .2 .2-.8 .3 .5 .3 .7 .3-1 .2 .1 .3 .4 .3 .3 .3-1.1 .2 1.1 .3-.7 .3 .7 .2-1.4 .3 1.5 .3-.5 .3-.5 .2 .9 .3-1 .3 .3 .3 .1 .2 .2 .3 0 .3-.5 .3-.1 .2-.3 .3 .8 .3 .1 .2-.1 .3 .2 .3 .7 .3-.8 .2-.6 .3 .5 .3 .1 .3-.1 .2 .2 .3 0 .3-1.6 .3-.5 .2 .4 .3-1.3 .3 0 .2-3 .3-1.8 .3-3 .3-.9 .2-4.4 .3 1.6 .3-.1 .3 2.3 .2 3.8 .3 2.6 .3 2.2 .3 1.5 .2 .8 .3 .1 .3 .3 .2 .7 .3-.2 .3 .3 .3 .6 .2-1.3 .3 .3 .3 .2 .3-.7 .2 .7 .3 .5 .3-.7 .3 .9 .2-.7 .3 0 .3-.2 .3 .4 .2 .2 .3-.3 .3 .1 .2 .1 .3-1.2 .3 .4 .3-.1 .2 .3 .3 .5 .3-.8 .3 .4 .2 .3 .3-.6 .3 0 .3 .2 .2 1 .3-1.4 .3 1.8 .2-1.7 .3 .1 .3-.8 .3 .4 .2 1.1 .3-.6 .3 .4 .3-.4 .2-.8 .3 .3 .3 .1 .3-.4 .2 .1 .3 .3 .3 .1 .2-.3 .3-.1 .3-.5 .3-.9 .2-.2 .3-.5 .3 .6 .3 .1 .2-1.2 .3-.8 .3-.1 .3 .5 .2-1 .3-.1 .3-.1 .2-.8 .3-1 .3-.7 .3-1.1 .2 1.4 .3-1.2 .3 .6 .3-.2 .2-.3 .3-.4 .3-1 .3 1 .2-1.3 .3 1.3 .3-.6 .2-.1 .3 .7 .3-.3 .3 1.8 .2-1 .3 .8 .3 .2 .3-.8 .2 .3 .3-.1 .3-.1 .3 0 .2-1 .3-.2 .3-.9 .2-2.7 .3-1.5 .3-2.2 .3-2.7 .2-3.6 .3-5 .3-3.2 .3-5.4 .2-4.5 .3-4.9 .3-5.7 .3-3.4 .2-4.6 .3-1.7 .3-2 .3-.5 .2 1.9 .3 1.7 .3 3.7 .2 2.5 .3 4.7 .3 2.2 .3 5 .2 3.8 .3 1.5 .3 2.2 .3 .9 .2 .8 .3 .3 .3 .3 .3 .4 .2 .9 .3 2 .3 1.9 .2 1.6 .3 3.2 .3 1.3 .3 3.8 .2 2.7 .3 1.4 .3 1.8 .3 2.4 .2 1.4 .3 2.2 .3 0 .3 .8 .2 1.1 .3 .1 .3 .2 .2 1 .3 .2 .3-.4 .3 1.8 .2-1.3 .3 .4 .3 .4 .3 .3 .2-.6 .3 .6 .3-.8 .3 1 .2 .4 .3-.2 .3-.5 .2 0 .3 .1 .3 .1 .3 0 .2 .7 .3-.9 .3 .8 .3 .2 .2-.1 .3-.5 .3 .4 .3-.5 .2 .5 .3-.4 .3 .8 .2-1.1 .3 .4 .3 .8 .3-.2 .2-.4 .3-.4 .3 1.7 .3 .1 .2-.3 .3-.6 .3-1.1 .3 .9 .2 .3 .3 .8 .3-1.7 .2 .1 .3 1 .3 .4 .3-.1 .2-.3 .3 .1 .3-.9 .3 .7 .2 0 .3-1.2 .3 1.1 .3-.3 .2 .1 .3 0 .3 .1 .3 1 .2-.7 .3 0 .3-.1 .2 .4 .3-.9 .3 .3 .3-.4 .2-.4 .3 .4 .3 1 .3-1.2 .2 .7 .3 .1 .3-.5 .3 .4 .2 0 .3 .3 .3 0 .2-1.2 .3 .4 .3 .6 .3 .1 .2-1.1 .3 1.4 .3-.1 .3-.9 .2 .9 .3 0 .3-.7 .3 1 .2-1.7 .3 .5 .3-.2 .2 .3 .3-.3 .3 .7 .3 .5 .2-.8 .3-.2 .3 .6 .3-.7 .2 0 .3 .4 .3 .5 .3 0 .2-.7 .3 .1 .3 .7 .2-1 .3 1.2 .3-1.1 .3 .6 .2 .3 .3-.1 .3-.5 .3 .4 .2 .1 .3 .1 .3-.9 .3 .4 .2 .2 .3-.5 .3 .4 .2-.3 .3 .5 .3 1 .3-.9 .2 .2 .3-.6 .3 0 .3-.2 .2 .1 .3-1.1 .3 .5 .3 .9 .2-.1 .3-.5 .3 .9 .2-.5 .3 .4 .3-.1 .3-.2 .2 .7 .3-.6 .3 1.1 .3-1.3 .2 0 .3 .6 .3-.5 .3-.1 .2 1 .3-1.3 .3 .1 .2 .2 .3 0 .3 .2 .3-.1 .2 .2 .3-.3 .3-.3 .3 .7 .2-.2 .3-.5 .3 .8 .3-.4 .2 .3 .3 .1 .3-.2 .3 .1 .2 0 .3-.1 .3-.4 .2 .1 .3 .2 .3 .4 .3-.2 .2-.6 .3-.1 .3 .5 .3-.2 .2-1 .3 1.1 .3 .8 .3-1.2 .2 .2 .3 .7 .3-.4 .2 .1 .3 0 .3-.2 .3-.2 .2 .5 .3-.4 .3-.2 .3 .4 .2 .2 .3-.4 .3 .4 .3-.7 .2 .2 .3 .7 .3-.2 .2-.5 .3 .4 .3-.6 .3-.2 .2 1.1 .3 .2 .3-.8 .3 0 .2 .1 .3-.2 .3 .1 .3 .1 .2-.2 .3 .4 .3-.3 .2 .7 .3-1 .3 .7 .3-1.4 .2 1 .3-.5 .3 .6 .3 .1 .2 0 .3-.3 .3 .1 .3-.4 .2 .1 .3 .5 .3-.1 .2 .3 .3 .2 .3-.8 .3 .9 .2-.9 .3 .2 .3 .1 .3 .1 .2 .1 .3-.4 .3 .1 .3 .9 .2-1.5 .3 1.9 .3-1.3 .2 0 .3 .9 .3-.7 .3-.2 .2-.3 .3 .7 .3-.6 .3 .6 .2-.4 .3 .1 .3 .3 .3-.7 .2 0 .3 .5 .3-.7 .3-.6 .2 1.2 .3-.5 .3-.1 .2-1.3 .3-.5 .3-.1 .3-2 .2-1.3 .3-2.7 .3-5.3 .3-4.1 .2-3.3 .3-4.1 .3 .5 .3 1 .2 3.6 .3 4.8 .3 3.5 .2 3.6 .3 3.4 .3 1.4 .3 2.3 .2-.3 .3 .2 .3 .5 .3-.6 .2 1.4 .3 0 .3-.3 .3-.4 .2 .2 .3 .5 .3-.7 .2 1.1 .3-1.5 .3 .7 .3-.7 .2 1.5 .3-.4 .3-.5 .3 .1 .2 1 .3-1 .3 .4 .3-.1 .2 .6 .3-1.1 .3 1 .2-.1 .3-.3 .3-.1 .3 .6 .2-.8 .3 .4 .3-.6 .3 .9 .2-.2 .3-.3 .3 0 .3 .1 .2 0 .3 .3 .3 .5 .2-.3 .3-.7 .3 .1 .3 .3 .2-.7 .3-.1 .3 .2 .3 .5 .2-.4 .3 .4 .3-.3 .3-.2 .2 .6 .3-.1 .3 .4 .2 0 .3 0 .3-.8 .3 .5 .2 .3 .3-.7 .3 .4 .3-.3 .2 .1 .3 .2 .3-.3 .3-.2 .2-.6 .3 1.1 .3 .2 .2-.8 .3 .6 .3 0 .3 .7 .2-1.1 .3-.2 .3 1.2 .3-.5 .2 .2 .3-.7 .3 .3 .3-.5 .2 .9 .3-1.3 .3-.2 .3 .8 .2 .2 .3-.4 .3 .9 .2-.7 .3 .1 .3 .3 .3-.5 .2 .3 .3-.7 .3 .9 .3-.7 .2 .5 .3-.3 .3 .7 .3-.6 .2 .7 .3 .2 .3-.6 .2 .4 .3-.5 .3-.2 .3 .1 .2-.6 .3 1.3 .3 .4 .3-1.3 .2 .9 .3 0 .3-.7 .3 0 .2-.2 .3 0 .3 .9 .2-.5 .3 .1 .3 0 .3 .3 .2-.6 .3 .3 .3 .6 .3-.6 .2 .5 .3 .7 .3-2 .3 .8 .2 .3 .3-.3 .3-.3 .2 .3 .3-.9 .3 .3 .3-.3 .2 .2 .3 0 .3 1 .3-.7 .2-.1 .3 .6 .3-.3 .3-.3 .2 .4 .3 .6 .3-.3 .2-.3 .3 0 .3-.9 .3 1.6 .2-.8 .3 .6 .3-.3 .3-.7 .2 .6 .3-.6 .3 .2 .3 1.2 .2-.7 .3-.8 .3 .7 .2-.8 .3 1.4 .3-1.7 .3 1.2 .2-.4 .3-.4 .3 .4 .3 .6 .2-.8 .3-.6 .3 1.1 .3 0 .2-.6 .3-.1 .3-.1 .3 .4 .2 .1 .3-.2 .3-.5 .2 .6 .3-.9 .3 .7 .3-.2 .2-1.1 .3 .2 .3-.5 .3 0 .2-1.2 .3 .3 .3-1.8 .3-1.8 .2-.6 .3-.6 .3-.2 .2-1.3 .3 1.6 .3-.6 .3-1.1 .2 2.4 .3 .9 .3 .5 .3 2 .2 .8 .3 .3 .3-.5 .3 1.1 .2-1 .3 .4 .3 .5 .2-1.7 .3-1.3 .3-3.4 .3-4 .2-6.7 .3-6.5 .3-7.5 .3-6.1 .2-3.7 .3 1.5 .3 3.6 .3 5 .2 4.9 .3 3.9 .3 2 .2 3.5 .3 .7 .3 3.9 .3 1.6 .2 3 .3 2.4 .3 1.3 .3 1.1 .2 1.9 .3 1.3 .3-1 .3 .7 .2 .7 .3 .1 .3 .1 .2-.2 .3 0 .3 .5 .3-.2 .2-.4 .3-.3 .3 1.2 .3-1.3 .2 .7 .3-.5 .3 .3 .3 .2 .2 .4 .3 0 .3-.1 .2 .2 .3 .2 .3-.7 .3 .8 .2-.1 .3 0 .3-.4 .3-.1 .2 .1 .3 .5 .3-1 .3 .2 .2 .4 .3-.6 .3 .4 .3 .3 .2-1 .3 1 .3-1.5 .2 1 .3 .5 .3-.4 .3 .4 .2-.4 .3 .4 .3-.4 .3-.2 .2 .2 .3 .2 .3 .2 .3-.8 .2-.2 .3 1.2 .3-1 .2 0 .3 .7 .3-.2 .3-.8 .2 .7 .3-.1 .3 .5 .3-.7 .2-.8 .3-.2 .3 .5 .3-.6 .2 .4 .3-.5 .3 1.2 .2-.8 .3-.2 .3-1.7 .3 1.1 .2-.4 .3-.6 .3-.6 .3 1.2 .2-.1 .3-1.3 .3 .1 .3-.5 .2-.6 .3 0 .3 .8 .2-.3 .3-.8 .3-.4 .3 1.1 .2-1.6 .3 0 .3-.1 .3 1 .2-.9 .3 .3 .3-.3 .3-.1 .2 .1 .3 .5 .3 .4 .2-1 .3 .7 .3-1.5 .3 1.5 .2-.3 .3-.4 .3 .6 .3 1.1 .2-1 .3 .6 .3-.1 .3 .1 .2 .8 .3-.6 .3-.3 .2 .3 .3-.9 .3-.2 .3 .2 .2-1.6 .3-.8 .3-1.4 .3-1.2 .2-.7 .3-1.9 .3-2.2 .3-3 .2-2.5 .3-3.6 .3-3.1 .2-2 .3-3.5 .3-3 .3-3.7 .2-1.7 .3-2.6 .3-1.2 .3 .1 .2 .8 .3 3 .3 1.1 .3 2.7 .2 2.4 .3 3.5 .3 3.4 .3 2.7 .2 2.6 .3 3.5 .3 1.1 .2 2 .3 1.1 .3 .5 .3-.4 .2 .8 .3-1.9 .3-1.3 .3-2.1 .2-1.4 .3-3.2 .3-.2 .3-2.8 .2 .1 .3 .3 .3 1.8 .2 2.4 .3 1.5 .3 3.5 .3 2.1 .2 3.7 .3 1.7 .3 2.2 .3 .7 .2 1.3 .3 2 .3 .7 .3 .4 .2 .4 .3 1.2 .3-.6 .2 1.3 .3-.7 .3 .4 .3-1.1 .2 1.2 .3-.1 .3 .3 .3-.4 .2 .4 .3-.4 .3 1 .3-1.1 .2 .3 .3 1.6 .3-.2 .2-.7 .3-.5 .3 .2 .3 .1 .2 .1 .3-.2 .3 .4 .3 .6 .2-1.1 .3 .5 .3 .4 .3-.1 .2-.1 .3-.5 .3-.3 .2 .7 .3-.4 .3 .7 .3-.9 .2 0 .3 1.3 .3-1.9 .3 1.7 .2-.6 .3 .3 .3-.5 .3-.7 .2 1.2 .3-.7 .3 .5 .2 .7 .3-.6 .3-.5 .3 0 .2-.3 .3 .6 .3 .9 .3-.2 .2-1.7 .3 .6 .3 .5 .3 .3 .2-.8 .3 .6 .3-.2 .3-.5 .2 .6 .3-.9 .3 .7 .2 0 .3-.1 .3 .9 .3 .6 .2-1.3 .3-.3 .3-.6 .3 .9 .2 0 .3 1.2 .3-1.4 .3-.9 .2 1.6 .3-.2 .3-1.2 .2 1.6 .3-.6 .3 .4 .3-.9 .2 .2 .3-.1 .3 .7 .3 0 .2-.1 .3-1.2 .3 1.5 .3-.8 .2 .2 .3-.1 .3 .3 .2 .1 .3 .5 .3-.1 .3-.7 .2-.2 .3 .3 .3-.1 .3 .8 .2-.8 .3 0 .3 0 .3 0 .2 .4 .3-.3 .3 .6 .2-.5 .3 .1 .3 .1 .3 .2 .2-.1 .3-.7 .3 .1 .3 .6 .2-.2 .3-.3 .3-.5 .3 .2 .2 .8 .3-.7 .3 .5 .2-.2 .3-.4 .3 0 .3-.5 .2 .5 .3 0 .3 .8 .3 .6 .2-1.4 .3 .4 .3 .2 .3 .8 .2-1.5 .3 1.4 .3-.9 .2 .8 .3-1 .3 .3 .3 .9 .2-.7 .3 .4 .3 .1 .3-.8 .2 .6 .3-.7 .3 .2 .3 .4 .2-.8 .3 .9 .3-1.1 .2 .9 .3-.5 .3 .2 .3-.4 .2 .8 .3 .5 .3-1.5 .3 .4 .2-.5 .3 .5 .3-.4 .3 1 .2-.7 .3 .3 .3-.5 .3 .3 .2 .3 .3 .1 .3-.1 .2-.8 .3 1.1 .3 .1 .3-.1 .2-.4 .3 .1 .3-.2 .3 .6 .2-.9 .3-.3 .3 .5 .3 .1 .2 .5 .3-.1 .3 .3 .2-.9 .3-.4 .3 1.5 .3-.9 .2-1 .3 .8 .3 .2 .3 0 .2-.3 .3 .7 .3-1 .3 .4 .2-.2 .3 .9 .3-.5 .2-.7 .3 .2 .3-.1 .3 .5 .2-.6 .3-.4 .3-.3 .3 .6 .2-1.2 .3-.6 .3-.6 .3-.7 .2-3.1 .3-1.9 .3-3.8 .2-5.5 .3-5.6 .3-4.5 .3-4.2 .2-2.1 .3 1.8 .3 3.2 .3 2.3 .2 2.4 .3 2.6 .3 .4 .3 .8 .2-.4 .3 .3 .3 .5 .2 2 .3 1.9 .3 .8 .3 2.2 .2 .9 .3 1.1 .3 1.9 .3 .9 .2-.2 .3 .4 .3-.2 .3 .3 .2 .2 .3-.1 .3 .9 .2 .1 .3 .1 .3 .7 .3 .6 .2 .6 .3 0 .3 .9 .3-.3 .2 .6 .3 0 .3 .8 .3-.1 .2 .5 .3 .3 .3 .7 .3-.3 .2 .9 .3 .6 .3-1.7 .2 1.5 .3 .3 .3 .5 .3-1.9 .2 1.9 .3 1 .3-1.8 .3 0 .2 .3 .3-.5 .3 .5 .3 .3 .2 .3 .3-.3 .3 .1 .2 .4 .3 .3 .3-.2 .3-.8 .2 .5 .3-.4 .3 .3 .3-.7 .2 0 .3-.4 .3 0 .3-1.6 .2-1.6 .3-3.2 .3-4 .2-3.5 .3-4.9 .3-2.5 .3-1.7 .2 1.3 .3 1.7 .3 4.2 .3 2.2 .2 2.1 .3 1.2 .3 1.5 .3 1.3 .2 .4 .3 2.5 .3 1.8 .2 1.3 .3 1.2 .3-.3 .3 1.2 .2-.1 .3 1.4 .3-.3 .3 .7 .2-1.4 .3 .9 .3-.3 .3-.3 .2 .8 .3-.9 .3 0 .2-.1 .3 .7 .3 .1 .3-.9 .2 .4 .3 .1 .3 .3 .3 .5 .2 0 .3-.5 .3 0 .3 .4 .2-.8 .3 0 .3 .7 .2 0 .3-.3 .3-.2 .3 .3 .2 .2 .3-.6 .3-.6 .3 .7 .2 .4 .3-1 .3 1.1 .3-.6 .2 .5 .3-.4 .3 .5 .3-.9 .2 .1 .3 .6 .3-.3 .2-.7 .3 1.2 .3-.1 .3-.1 .2-.5 .3 .7 .3-.1 .3-.2 .2-.1 .3 0 .3 .7 .3-1.1 .2 1.1 .3-.9 .3 .2 .2 .4 .3 .1 .3 0 .3-.5 .2-.4 .3-.3 .3 1.6 .3-1 .2-.6 .3 1.3 .3-.5 .3-.4 .2 0 .3 .9 .3-.4 .2 .4 .3-1.2 .3 1 .3-.8 .2 .6 .3-.2 .3 .2 .3-.2 .2-.1 .3-.3 .3 .9 .3-.7 .2 1.3 .3-.9 .3-.5 .2 1 .3-.5 .3-.8 .3 1.4 .2-1 .3 .9 .3-.4 .3 .1 .2-.9 .3 .2 .3 .5 .3 0 .2-.3 .3 .3 .3 0 .2 .3 .3 .2 .3-1.2 .3 .6 .2 .2 .3-.2 .3-.4 .3 0 .2 .6 .3 .5 .3-.4 .3 .1 .2-.4 .3 .5 .3-1.1 .2 .3 .3 .4 .3 .7 .3-1.3 .2 .3 .3-.4 .3 .8 .3 .3 .2-.5 .3 0 .3 .2 .3-.6 .2 .4 .3-.2 .3 .4 .2 .3 .3-1.1 .3 .2 .3 .8 .2-.6 .3 .3 .3 .1 .3 .5 .2-.3 .3-.9 .3 0 .3 .4 .2 .2 .3 .3 .3-.4 .3-.3 .2 .4 .3-1.2 .3 .7 .2 .5 .3 0 .3 .5 .3-.7 .2 .2 .3-.1 .3-.7 .3-.1 .2 1.4 .3-1 .3 .6 .3 .5 .2-1.8 .3 1.4 .3 .5 .2-1.2 .3 1.2 .3-.3 .3 0 .2-1.8 .3 1.1 .3-.2 .3 .3 .2-.2 .3 .8 .3-1.4 .3 .9 .2 .9 .3-.4 .3-.5 .2-.2 .3-.1 .3-.6 .3 .2 .2 .7 .3 .8 .3-1 .3 .4 .2-.2 .3 0 .3-.9 .3 1.4 .2-.7 .3 .4 .3-.3 .2-.7 .3 .9 .3-1.1 .3 1 .2 .3 .3 .2 .3 .2 .3-.1 .2-.5 .3 0 .3-.9 .3 1.6 .2 .1 .3-.3 .3-.9 .2 .5 .3-1.1 .3 1.4 .3 .2 .2-.7 .3 .2 .3 .1 .3 0 .2 .1 .3-.5 .3 .1 .3-.3 .2 .7 .3-.3 .3 .5 .2-.6 .3 0 .3 0 .3-.4 .2 0 .3 0 .3 .5 .3 .1 .2-.2 .3-.5 .3 .8 .3-.1 .2 0 .3 .6 .3-1.4 .3 1.2 .2-1.1 .3 .4 .3-.6 .2 .7 .3-.1 .3 .5 .3-.6 .2 .2 .3-.8 .3 .4 .3 .4 .2-1.8 .3 1 .3-.1 .3-1.3 .2 .5 .3-.6 .3-1.2 .2 1 .3-.5 .3-1.1 .3 .9 .2 .2 .3 .2 .3 .7 .3 .5 .2 .3 .3 .6 .3 .3 .3-.5 .2 1.3 .3-1.9 .3 .9 .2 .9 .3-.1 .3-.1 .3-.6 .2 0 .3-.6" fill="none" stroke="#3a3738" stroke-width="0.9" stroke-linejoin="round"/>
<g stroke="#231f20" stroke-width="3.0" fill="none" stroke-linecap="butt">
<path d="M157.60 1.15V1254.90"/>
<path d="M977.70 1.15V1254.90"/>
<path d="M157.60 2.65H977.70"/>
<path d="M157.60 1239.50H977.70"/>
<path d="M142.80 621.10H977.70"/>
</g>
<path d="M171.27 2.65V10.60M171.27 1239.50V1246.70M184.94 2.65V10.60M184.94 1239.50V1246.70M198.60 2.65V10.60M198.60 1239.50V1246.70M212.27 2.65V10.60M212.27 1239.50V1246.70M225.94 2.65V10.60M225.94 1239.50V1246.70M239.61 2.65V10.60M239.61 1239.50V1246.70M253.28 2.65V10.60M253.28 1239.50V1246.70M266.95 2.65V10.60M266.95 1239.50V1246.70M280.62 2.65V10.60M280.62 1239.50V1246.70M294.28 2.65V17.50M294.28 1224.50V1254.90M307.95 2.65V10.60M307.95 1239.50V1246.70M321.62 2.65V10.60M321.62 1239.50V1246.70M335.29 2.65V10.60M335.29 1239.50V1246.70M348.96 2.65V10.60M348.96 1239.50V1246.70M362.62 2.65V10.60M362.62 1239.50V1246.70M376.29 2.65V10.60M376.29 1239.50V1246.70M389.96 2.65V10.60M389.96 1239.50V1246.70M403.63 2.65V10.60M403.63 1239.50V1246.70M417.30 2.65V10.60M417.30 1239.50V1246.70M430.97 2.65V17.50M430.97 1224.50V1254.90M444.63 2.65V10.60M444.63 1239.50V1246.70M458.30 2.65V10.60M458.30 1239.50V1246.70M471.97 2.65V10.60M471.97 1239.50V1246.70M485.64 2.65V10.60M485.64 1239.50V1246.70M499.31 2.65V10.60M499.31 1239.50V1246.70M512.98 2.65V10.60M512.98 1239.50V1246.70M526.64 2.65V10.60M526.64 1239.50V1246.70M540.31 2.65V10.60M540.31 1239.50V1246.70M553.98 2.65V10.60M553.98 1239.50V1246.70M567.65 2.65V17.50M567.65 1224.50V1254.90M581.32 2.65V10.60M581.32 1239.50V1246.70M594.99 2.65V10.60M594.99 1239.50V1246.70M608.65 2.65V10.60M608.65 1239.50V1246.70M622.32 2.65V10.60M622.32 1239.50V1246.70M635.99 2.65V10.60M635.99 1239.50V1246.70M649.66 2.65V10.60M649.66 1239.50V1246.70M663.33 2.65V10.60M663.33 1239.50V1246.70M677.00 2.65V10.60M677.00 1239.50V1246.70M690.66 2.65V10.60M690.66 1239.50V1246.70M704.33 2.65V17.50M704.33 1224.50V1254.90M718.00 2.65V10.60M718.00 1239.50V1246.70M731.67 2.65V10.60M731.67 1239.50V1246.70M745.34 2.65V10.60M745.34 1239.50V1246.70M759.01 2.65V10.60M759.01 1239.50V1246.70M772.67 2.65V10.60M772.67 1239.50V1246.70M786.34 2.65V10.60M786.34 1239.50V1246.70M800.01 2.65V10.60M800.01 1239.50V1246.70M813.68 2.65V10.60M813.68 1239.50V1246.70M827.35 2.65V10.60M827.35 1239.50V1246.70M841.02 2.65V17.50M841.02 1224.50V1254.90M854.69 2.65V10.60M854.69 1239.50V1246.70M868.35 2.65V10.60M868.35 1239.50V1246.70M882.02 2.65V10.60M882.02 1239.50V1246.70M895.69 2.65V10.60M895.69 1239.50V1246.70M909.36 2.65V10.60M909.36 1239.50V1246.70M923.03 2.65V10.60M923.03 1239.50V1246.70M936.70 2.65V10.60M936.70 1239.50V1246.70M950.36 2.65V10.60M950.36 1239.50V1246.70M964.03 2.65V10.60M964.03 1239.50V1246.70M142.8 33.35H173.00M962.00 33.35H977.70M142.8 154.60H173.00M962.00 154.60H977.70M142.8 275.80H173.00M962.00 275.80H977.70M150 94.00H157.60M969.8 94.00H977.70M150 215.20H157.60M969.8 215.20H977.70M142.8 312.10H177.70M951.00 312.10H977.70M142.8 446.80H173.00M962.00 446.80H977.70M142.8 581.50H173.00M962.00 581.50H977.70M150 379.40H157.60M969.8 379.40H977.70M150 514.20H157.60M969.8 514.20H977.70M142.8 754.20H173.00M962.00 754.20H977.70M142.8 887.20H173.00M962.00 887.20H977.70M150 687.60H157.60M969.8 687.60H977.70M150 820.70H157.60M969.8 820.70H977.70M142.8 930.30H177.70M951.00 930.30H977.70M142.8 1070.90H173.00M962.00 1070.90H977.70M142.8 1211.50H173.00M962.00 1211.50H977.70M150 1000.60H157.60M969.8 1000.60H977.70M150 1141.20H157.60M969.8 1141.20H977.70" stroke="#231f20" stroke-width="2.9" fill="none"/>
<g fill="#fff" stroke="#231f20" stroke-width="1.3" stroke-linejoin="miter">
<rect x="263.9" y="223.9" width="14.2" height="14.2"/>
<rect x="423.1" y="186.2" width="14.2" height="14.2"/>
<rect x="521.7" y="207.4" width="14.2" height="14.2"/>
<rect x="602.9" y="212.9" width="14.2" height="14.2"/>
<rect x="799.1" y="137.9" width="14.2" height="14.2"/>
<rect x="878.6" y="196.6" width="14.2" height="14.2"/>
<rect x="263.9" y="553.9" width="14.2" height="14.2"/>
<rect x="423.1" y="545.9" width="14.2" height="14.2"/>
<rect x="521.7" y="551.7" width="14.2" height="14.2"/>
<rect x="600.7" y="554.2" width="14.2" height="14.2"/>
<rect x="804.6" y="547.9" width="14.2" height="14.2"/>
<rect x="265.1" y="836.7" width="14.2" height="14.2"/>
<rect x="423.7" y="839.2" width="14.2" height="14.2"/>
<rect x="522.4" y="833.7" width="14.2" height="14.2"/>
<rect x="612.9" y="802.9" width="14.2" height="14.2"/>
<rect x="799.7" y="787.4" width="14.2" height="14.2"/>
<rect x="877.7" y="782.6" width="14.2" height="14.2"/>
<rect x="261.9" y="1176.9" width="14.2" height="14.2"/>
<rect x="420.7" y="1169.2" width="14.2" height="14.2"/>
<rect x="519.6" y="1173.4" width="14.2" height="14.2"/>
<rect x="615.7" y="1136.7" width="14.2" height="14.2"/>
<rect x="806.7" y="1150.7" width="14.2" height="14.2"/>
<rect x="867.7" y="1146.6" width="14.2" height="14.2"/>
<rect x="608.3" y="26.7" width="14.2" height="14.2"/>
<path d="M458.8 193.7L466.8 208.6H450.8Z"/>
<path d="M506.7 117.9L514.7 132.7H498.7Z"/>
<path d="M546.3 37.5L554.3 52.4H538.3Z"/>
<path d="M683.8 228.7L691.8 243.6H675.8Z"/>
<path d="M746.2 160.0L754.2 174.1H738.2Z"/>
<path d="M926.2 227.0L934.2 241.6H918.2Z"/>
<path d="M950.2 196.2L958.2 210.6H942.2Z"/>
<path d="M464.7 507.9L472.7 522.7H456.7Z"/>
<path d="M503.7 468.4L511.7 483.6H495.7Z"/>
<path d="M547.0 362.9L555.0 377.7H539.0Z"/>
<path d="M685.0 552.4L693.0 567.4H677.0Z"/>
<path d="M748.3 509.2L756.3 524.1H740.3Z"/>
<path d="M923.2 549.5L931.2 564.7H915.2Z"/>
<path d="M948.7 520.7L956.7 535.7H940.7Z"/>
<path d="M495.0 806.5L503.0 821.1H487.0Z"/>
<path d="M613.8 822.9L621.8 837.7H605.8Z"/>
<path d="M489.2 1142.9L497.2 1157.2H481.2Z"/>
<path d="M608.8 1115.9L616.8 1130.6H600.8Z"/>
<path d="M615.8 61.5L623.8 76.1H607.8Z"/>
<circle cx="782.5" cy="214.2" r="8.0"/>
<circle cx="783.0" cy="556.2" r="8.0"/>
<circle cx="597.0" cy="850.0" r="8.0"/>
<circle cx="786.3" cy="847.2" r="8.0"/>
<circle cx="795.1" cy="101.0" r="8.0"/>
</g>
<g fill="#231f20">
<path d="M473.3 102.5l9.7 14.5l-9.7 14.5l-9.7 -14.5z"/>
<path d="M520.8 137.2l9.7 14.5l-9.7 14.5l-9.7 -14.5z"/>
<path d="M562.2 196.3l9.7 14.5l-9.7 14.5l-9.7 -14.5z"/>
<path d="M580.0 213.8l9.7 14.5l-9.7 14.5l-9.7 -14.5z"/>
<path d="M698.3 203.8l9.7 14.5l-9.7 14.5l-9.7 -14.5z"/>
<path d="M757.2 133.0l9.7 14.5l-9.7 14.5l-9.7 -14.5z"/>
<path d="M748.3 181.3l9.7 14.5l-9.7 14.5l-9.7 -14.5z"/>
<path d="M796.3 172.5l9.7 14.5l-9.7 14.5l-9.7 -14.5z"/>
<path d="M871.8 153.8l9.7 14.5l-9.7 14.5l-9.7 -14.5z"/>
<path d="M966.5 212.2l9.7 14.5l-9.7 14.5l-9.7 -14.5z"/>
<path d="M518.0 486.5l9.7 14.5l-9.7 14.5l-9.7 -14.5z"/>
<path d="M748.3 530.8l9.7 14.5l-9.7 14.5l-9.7 -14.5z"/>
<path d="M800.5 520.5l9.7 14.5l-9.7 14.5l-9.7 -14.5z"/>
<path d="M871.8 530.5l9.7 14.5l-9.7 14.5l-9.7 -14.5z"/>
<path d="M352.5 816.8l9.7 14.5l-9.7 14.5l-9.7 -14.5z"/>
<path d="M462.5 666.8l9.7 14.5l-9.7 14.5l-9.7 -14.5z"/>
<path d="M508.7 654.2l9.7 14.5l-9.7 14.5l-9.7 -14.5z"/>
<path d="M559.2 826.3l9.7 14.5l-9.7 14.5l-9.7 -14.5z"/>
<path d="M579.5 797.5l9.7 14.5l-9.7 14.5l-9.7 -14.5z"/>
<path d="M695.5 760.0l9.7 14.5l-9.7 14.5l-9.7 -14.5z"/>
<path d="M760.0 694.7l9.7 14.5l-9.7 14.5l-9.7 -14.5z"/>
<path d="M794.7 805.8l9.7 14.5l-9.7 14.5l-9.7 -14.5z"/>
<path d="M872.7 751.7l9.7 14.5l-9.7 14.5l-9.7 -14.5z"/>
<path d="M901.8 792.2l9.7 14.5l-9.7 14.5l-9.7 -14.5z"/>
<path d="M967.3 828.5l9.7 14.5l-9.7 14.5l-9.7 -14.5z"/>
<path d="M351.3 1159.2l9.7 14.5l-9.7 14.5l-9.7 -14.5z"/>
<path d="M472.8 1108.8l9.7 14.5l-9.7 14.5l-9.7 -14.5z"/>
<path d="M507.0 936.8l9.7 14.5l-9.7 14.5l-9.7 -14.5z"/>
<path d="M578.0 1148.0l9.7 14.5l-9.7 14.5l-9.7 -14.5z"/>
<path d="M692.5 1141.8l9.7 14.5l-9.7 14.5l-9.7 -14.5z"/>
<path d="M757.8 1125.5l9.7 14.5l-9.7 14.5l-9.7 -14.5z"/>
<path d="M797.8 1125.8l9.7 14.5l-9.7 14.5l-9.7 -14.5z"/>
<path d="M869.8 1112.2l9.7 14.5l-9.7 14.5l-9.7 -14.5z"/>
<path d="M894.5 1145.0l9.7 14.5l-9.7 14.5l-9.7 -14.5z"/>
<path d="M616.0 89.0l9.7 14.5l-9.7 14.5l-9.7 -14.5z"/>
<circle cx="490.0" cy="147.5" r="8.8"/>
<circle cx="595.8" cy="200.3" r="8.8"/>
<circle cx="622.8" cy="202.5" r="8.8"/>
<circle cx="494.2" cy="538.8" r="8.8"/>
<circle cx="593.8" cy="538.8" r="8.8"/>
<circle cx="621.2" cy="543.8" r="8.8"/>
<circle cx="795.0" cy="35.1" r="8.8"/>
<path d="M903.8 828.2h6.0v5.8h5.8v6.0h-5.8v5.8h-6.0v-5.8h-5.8v-6.0h5.8z"/>
<path d="M903.5 1174.2h6.0v5.8h5.8v6.0h-5.8v5.8h-6.0v-5.8h-5.8v-6.0h5.8z"/>
<path d="M792.0 59.8h6.0v5.8h5.8v6.0h-5.8v5.8h-6.0v-5.8h-5.8v-6.0h5.8z"/>
</g>
<g font-family="Liberation Sans, Arial, Helvetica, sans-serif" fill="#231f20">
<g font-size="36.9" text-anchor="end">
<text x="131.8" y="43.7">4000</text>
<text x="131.8" y="164.9">2000</text>
<text x="131.8" y="286.1">0</text>
<text x="131.8" y="322.4">24000</text>
<text x="131.8" y="457.1">12000</text>
<text x="131.8" y="591.8">0</text>
<text x="131.8" y="631.4">5000</text>
<text x="131.8" y="764.5">2500</text>
<text x="131.8" y="897.5">0</text>
<text x="131.8" y="940.6">10000</text>
<text x="131.8" y="1081.2">5000</text>
<text x="131.8" y="1221.8">0</text>
</g>
<g font-size="34" text-anchor="middle">
<text x="157.6" y="1290.8">10</text>
<text x="294.3" y="1290.8">20</text>
<text x="431.0" y="1290.8">30</text>
<text x="567.6" y="1290.8">40</text>
<text x="704.3" y="1290.8">50</text>
<text x="841.0" y="1290.8">60</text>
<text x="977.7" y="1290.8">70</text>
</g>
<g font-size="36.5">
<text x="175.6" y="53.0">20Cu-42Ni-38Fe wt%</text>
<text x="165.3" y="654.0">5Cu-48Ni-47Fe wt%</text>
<text x="174.0" y="248.3">8 h</text>
<text x="174.0" y="567.7">80 h</text>
<text x="180.7" y="859.3">8 h</text>
<text x="175.7" y="1188.7">80 h</text>
</g>
<text x="567.7" y="1351.7" font-size="40.4" text-anchor="middle">2θ (degrees)</text>
<text transform="translate(35.3 663.2) rotate(-90)" font-size="40" text-anchor="middle">Intensity (a.u.)</text>
<text x="636.8" y="46.2" font-size="29.1" textLength="60.0" lengthAdjust="spacingAndGlyphs">NiFe</text>
<text x="698.4" y="49.4" font-size="19.5">2</text>
<text x="709.7" y="46.2" font-size="29.1">O</text>
<text x="732.2" y="49.4" font-size="19.5" textLength="11.6" lengthAdjust="spacingAndGlyphs">4</text>
<text x="636.4" y="76.7" font-size="29.1" textLength="58.4" lengthAdjust="spacingAndGlyphs">CuO</text>
<text x="636.3" y="113.5" font-size="29.1" textLength="33.2" lengthAdjust="spacingAndGlyphs">Fe</text>
<text x="668.6" y="116.7" font-size="19.5">2</text>
<text x="679.9" y="113.5" font-size="29.1">O</text>
<text x="702.4" y="116.7" font-size="19.5">3</text>
<text x="821.2" y="46.0" font-size="29.1" textLength="34.0" lengthAdjust="spacingAndGlyphs">Cu</text>
<text x="857.6" y="54.2" font-size="19.5" textLength="9.0" lengthAdjust="spacingAndGlyphs">x</text>
<text x="867.4" y="46.0" font-size="29.1" textLength="31.0" lengthAdjust="spacingAndGlyphs">Fe</text>
<text x="899.6" y="54.2" font-size="19.5" textLength="27.6" lengthAdjust="spacingAndGlyphs">3-x</text>
<text x="927.4" y="46.0" font-size="29.1">O</text>
<text x="950.3" y="49.5" font-size="19.5" textLength="11.6" lengthAdjust="spacingAndGlyphs">4</text>
<text x="821.7" y="79.3" font-size="29.1" textLength="51.3" lengthAdjust="spacingAndGlyphs">NiO</text>
<text x="821.2" y="108.5" font-size="29.1" textLength="129.4" lengthAdjust="spacingAndGlyphs">unknown</text>
</g>
</svg>
</body></html>
